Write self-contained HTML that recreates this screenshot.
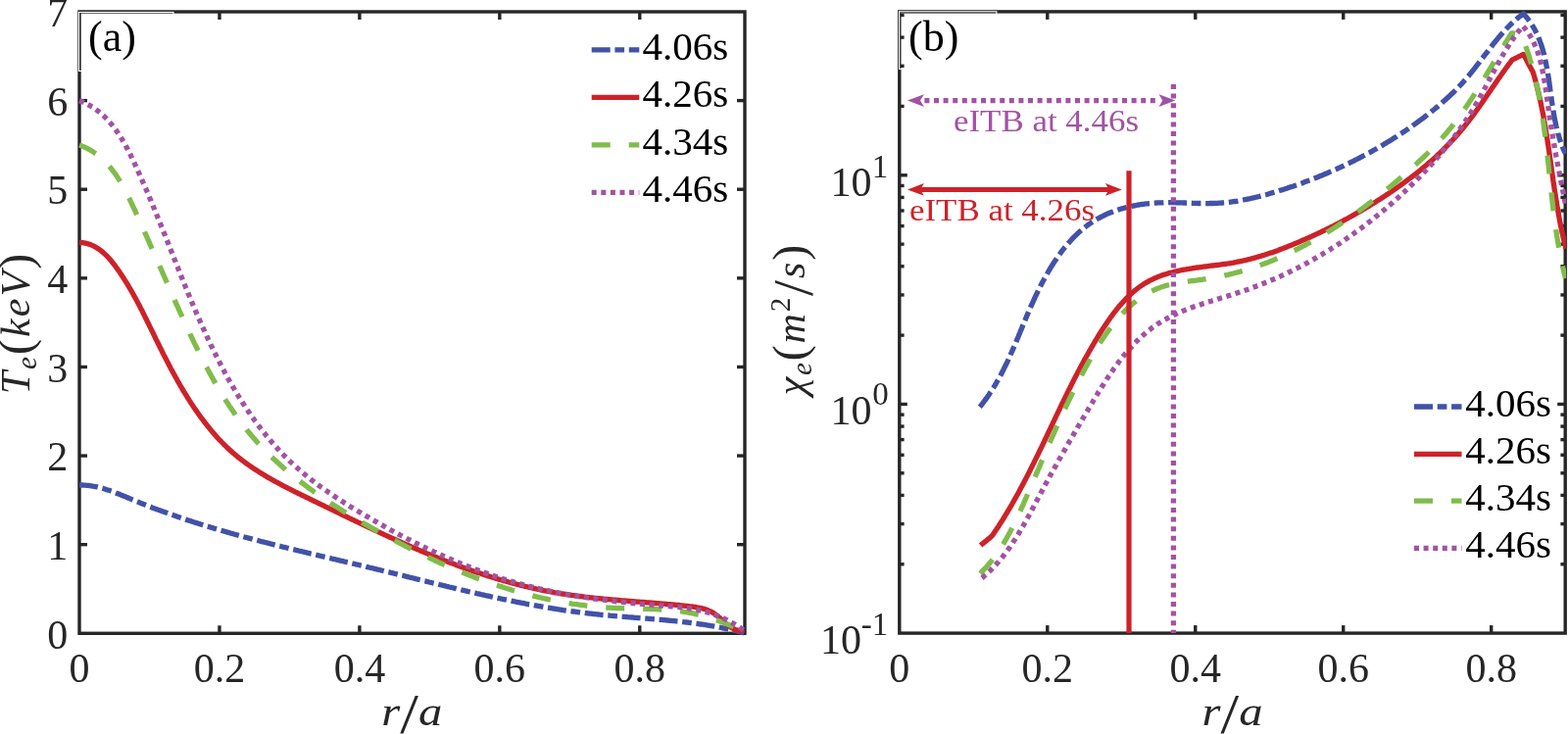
<!DOCTYPE html>
<html><head><meta charset="utf-8"><title>Figure</title>
<style>
html,body{margin:0;padding:0;background:#fff;width:1600px;height:749px;overflow:hidden}
svg{display:block}
text{font-family:'Liberation Serif', 'Times New Roman', serif;fill:#262626}
.tk{font-size:42px}
.sup{font-size:33px}
.lg{font-size:41px;fill:#000}
.ann{font-size:31px}
.pl{font-size:44px;fill:#000}
.al{font-size:42px}
</style></head><body>
<svg width="1600" height="749" viewBox="0 0 1600 749">
<rect width="1600" height="749" fill="#fff"/>
<line x1="223.95" y1="646.30" x2="223.95" y2="638.30" stroke="#262626" stroke-width="3.4"/>
<line x1="223.95" y1="12.00" x2="223.95" y2="20.00" stroke="#262626" stroke-width="3.4"/>
<line x1="366.89" y1="646.30" x2="366.89" y2="638.30" stroke="#262626" stroke-width="3.4"/>
<line x1="366.89" y1="12.00" x2="366.89" y2="20.00" stroke="#262626" stroke-width="3.4"/>
<line x1="509.84" y1="646.30" x2="509.84" y2="638.30" stroke="#262626" stroke-width="3.4"/>
<line x1="509.84" y1="12.00" x2="509.84" y2="20.00" stroke="#262626" stroke-width="3.4"/>
<line x1="652.79" y1="646.30" x2="652.79" y2="638.30" stroke="#262626" stroke-width="3.4"/>
<line x1="652.79" y1="12.00" x2="652.79" y2="20.00" stroke="#262626" stroke-width="3.4"/>
<line x1="81.00" y1="555.69" x2="89.00" y2="555.69" stroke="#262626" stroke-width="3.4"/>
<line x1="760.00" y1="555.69" x2="752.00" y2="555.69" stroke="#262626" stroke-width="3.4"/>
<line x1="81.00" y1="465.07" x2="89.00" y2="465.07" stroke="#262626" stroke-width="3.4"/>
<line x1="760.00" y1="465.07" x2="752.00" y2="465.07" stroke="#262626" stroke-width="3.4"/>
<line x1="81.00" y1="374.46" x2="89.00" y2="374.46" stroke="#262626" stroke-width="3.4"/>
<line x1="760.00" y1="374.46" x2="752.00" y2="374.46" stroke="#262626" stroke-width="3.4"/>
<line x1="81.00" y1="283.84" x2="89.00" y2="283.84" stroke="#262626" stroke-width="3.4"/>
<line x1="760.00" y1="283.84" x2="752.00" y2="283.84" stroke="#262626" stroke-width="3.4"/>
<line x1="81.00" y1="193.23" x2="89.00" y2="193.23" stroke="#262626" stroke-width="3.4"/>
<line x1="760.00" y1="193.23" x2="752.00" y2="193.23" stroke="#262626" stroke-width="3.4"/>
<line x1="81.00" y1="102.61" x2="89.00" y2="102.61" stroke="#262626" stroke-width="3.4"/>
<line x1="760.00" y1="102.61" x2="752.00" y2="102.61" stroke="#262626" stroke-width="3.4"/>
<rect x="81.00" y="12.00" width="679.00" height="634.30" fill="none" stroke="#262626" stroke-width="3.4"/>
<text x="81.00" y="695.5" text-anchor="middle" class="tk">0</text>
<text x="223.95" y="695.5" text-anchor="middle" class="tk">0.2</text>
<text x="366.89" y="695.5" text-anchor="middle" class="tk">0.4</text>
<text x="509.84" y="695.5" text-anchor="middle" class="tk">0.6</text>
<text x="652.79" y="695.5" text-anchor="middle" class="tk">0.8</text>
<text x="69.2" y="661.50" text-anchor="end" class="tk">0</text>
<text x="69.2" y="570.89" text-anchor="end" class="tk">1</text>
<text x="69.2" y="480.27" text-anchor="end" class="tk">2</text>
<text x="69.2" y="389.66" text-anchor="end" class="tk">3</text>
<text x="69.2" y="299.04" text-anchor="end" class="tk">4</text>
<text x="69.2" y="208.43" text-anchor="end" class="tk">5</text>
<text x="69.2" y="117.81" text-anchor="end" class="tk">6</text>
<text x="69.2" y="27.20" text-anchor="end" class="tk">7</text>
<line x1="1068.78" y1="646.10" x2="1068.78" y2="638.10" stroke="#262626" stroke-width="3.4"/>
<line x1="1068.78" y1="11.90" x2="1068.78" y2="19.90" stroke="#262626" stroke-width="3.4"/>
<line x1="1219.76" y1="646.10" x2="1219.76" y2="638.10" stroke="#262626" stroke-width="3.4"/>
<line x1="1219.76" y1="11.90" x2="1219.76" y2="19.90" stroke="#262626" stroke-width="3.4"/>
<line x1="1370.73" y1="646.10" x2="1370.73" y2="638.10" stroke="#262626" stroke-width="3.4"/>
<line x1="1370.73" y1="11.90" x2="1370.73" y2="19.90" stroke="#262626" stroke-width="3.4"/>
<line x1="1521.71" y1="646.10" x2="1521.71" y2="638.10" stroke="#262626" stroke-width="3.4"/>
<line x1="1521.71" y1="11.90" x2="1521.71" y2="19.90" stroke="#262626" stroke-width="3.4"/>
<line x1="917.80" y1="412.45" x2="925.80" y2="412.45" stroke="#262626" stroke-width="3.4"/>
<line x1="1597.20" y1="412.45" x2="1589.20" y2="412.45" stroke="#262626" stroke-width="3.4"/>
<line x1="917.80" y1="178.80" x2="925.80" y2="178.80" stroke="#262626" stroke-width="3.4"/>
<line x1="1597.20" y1="178.80" x2="1589.20" y2="178.80" stroke="#262626" stroke-width="3.4"/>
<line x1="917.80" y1="575.76" x2="922.60" y2="575.76" stroke="#262626" stroke-width="3.4"/>
<line x1="1597.20" y1="575.76" x2="1592.40" y2="575.76" stroke="#262626" stroke-width="3.4"/>
<line x1="917.80" y1="534.62" x2="922.60" y2="534.62" stroke="#262626" stroke-width="3.4"/>
<line x1="1597.20" y1="534.62" x2="1592.40" y2="534.62" stroke="#262626" stroke-width="3.4"/>
<line x1="917.80" y1="505.43" x2="922.60" y2="505.43" stroke="#262626" stroke-width="3.4"/>
<line x1="1597.20" y1="505.43" x2="1592.40" y2="505.43" stroke="#262626" stroke-width="3.4"/>
<line x1="917.80" y1="482.79" x2="922.60" y2="482.79" stroke="#262626" stroke-width="3.4"/>
<line x1="1597.20" y1="482.79" x2="1592.40" y2="482.79" stroke="#262626" stroke-width="3.4"/>
<line x1="917.80" y1="464.28" x2="922.60" y2="464.28" stroke="#262626" stroke-width="3.4"/>
<line x1="1597.20" y1="464.28" x2="1592.40" y2="464.28" stroke="#262626" stroke-width="3.4"/>
<line x1="917.80" y1="448.64" x2="922.60" y2="448.64" stroke="#262626" stroke-width="3.4"/>
<line x1="1597.20" y1="448.64" x2="1592.40" y2="448.64" stroke="#262626" stroke-width="3.4"/>
<line x1="917.80" y1="435.09" x2="922.60" y2="435.09" stroke="#262626" stroke-width="3.4"/>
<line x1="1597.20" y1="435.09" x2="1592.40" y2="435.09" stroke="#262626" stroke-width="3.4"/>
<line x1="917.80" y1="423.14" x2="922.60" y2="423.14" stroke="#262626" stroke-width="3.4"/>
<line x1="1597.20" y1="423.14" x2="1592.40" y2="423.14" stroke="#262626" stroke-width="3.4"/>
<line x1="917.80" y1="342.11" x2="922.60" y2="342.11" stroke="#262626" stroke-width="3.4"/>
<line x1="1597.20" y1="342.11" x2="1592.40" y2="342.11" stroke="#262626" stroke-width="3.4"/>
<line x1="917.80" y1="300.97" x2="922.60" y2="300.97" stroke="#262626" stroke-width="3.4"/>
<line x1="1597.20" y1="300.97" x2="1592.40" y2="300.97" stroke="#262626" stroke-width="3.4"/>
<line x1="917.80" y1="271.78" x2="922.60" y2="271.78" stroke="#262626" stroke-width="3.4"/>
<line x1="1597.20" y1="271.78" x2="1592.40" y2="271.78" stroke="#262626" stroke-width="3.4"/>
<line x1="917.80" y1="249.14" x2="922.60" y2="249.14" stroke="#262626" stroke-width="3.4"/>
<line x1="1597.20" y1="249.14" x2="1592.40" y2="249.14" stroke="#262626" stroke-width="3.4"/>
<line x1="917.80" y1="230.63" x2="922.60" y2="230.63" stroke="#262626" stroke-width="3.4"/>
<line x1="1597.20" y1="230.63" x2="1592.40" y2="230.63" stroke="#262626" stroke-width="3.4"/>
<line x1="917.80" y1="214.99" x2="922.60" y2="214.99" stroke="#262626" stroke-width="3.4"/>
<line x1="1597.20" y1="214.99" x2="1592.40" y2="214.99" stroke="#262626" stroke-width="3.4"/>
<line x1="917.80" y1="201.44" x2="922.60" y2="201.44" stroke="#262626" stroke-width="3.4"/>
<line x1="1597.20" y1="201.44" x2="1592.40" y2="201.44" stroke="#262626" stroke-width="3.4"/>
<line x1="917.80" y1="189.49" x2="922.60" y2="189.49" stroke="#262626" stroke-width="3.4"/>
<line x1="1597.20" y1="189.49" x2="1592.40" y2="189.49" stroke="#262626" stroke-width="3.4"/>
<line x1="917.80" y1="108.46" x2="922.60" y2="108.46" stroke="#262626" stroke-width="3.4"/>
<line x1="1597.20" y1="108.46" x2="1592.40" y2="108.46" stroke="#262626" stroke-width="3.4"/>
<line x1="917.80" y1="67.32" x2="922.60" y2="67.32" stroke="#262626" stroke-width="3.4"/>
<line x1="1597.20" y1="67.32" x2="1592.40" y2="67.32" stroke="#262626" stroke-width="3.4"/>
<line x1="917.80" y1="38.13" x2="922.60" y2="38.13" stroke="#262626" stroke-width="3.4"/>
<line x1="1597.20" y1="38.13" x2="1592.40" y2="38.13" stroke="#262626" stroke-width="3.4"/>
<line x1="917.80" y1="15.49" x2="922.60" y2="15.49" stroke="#262626" stroke-width="3.4"/>
<line x1="1597.20" y1="15.49" x2="1592.40" y2="15.49" stroke="#262626" stroke-width="3.4"/>
<rect x="917.80" y="11.90" width="679.40" height="634.20" fill="none" stroke="#262626" stroke-width="3.4"/>
<text x="917.80" y="695.5" text-anchor="middle" class="tk">0</text>
<text x="1068.78" y="695.5" text-anchor="middle" class="tk">0.2</text>
<text x="1219.76" y="695.5" text-anchor="middle" class="tk">0.4</text>
<text x="1370.73" y="695.5" text-anchor="middle" class="tk">0.6</text>
<text x="1521.71" y="695.5" text-anchor="middle" class="tk">0.8</text>
<text x="889.5" y="200.10" text-anchor="end" class="tk">10</text>
<text x="889.8" y="180.80" class="sup">1</text>
<text x="889.5" y="433.05" text-anchor="end" class="tk">10</text>
<text x="890.2" y="413.35" class="sup">0</text>
<text x="879" y="667.20" text-anchor="end" class="tk">10</text>
<text x="878.8" y="647.80" class="sup">-1</text>
<path d="M81.0,495.0 L82.5,495.0 L84.1,495.0 L85.6,495.1 L87.1,495.2 L88.6,495.3 L90.1,495.4 L91.6,495.6 L93.1,495.8 L94.6,496.1 L96.1,496.3 L97.5,496.6 L99.0,496.9 L100.4,497.3 L101.9,497.6 L103.3,498.0 L104.8,498.4 L106.2,498.8 L107.6,499.2 L109.0,499.7 L110.4,500.1 L111.9,500.6 L113.3,501.1 L114.7,501.6 L116.1,502.1 L117.5,502.6 L118.9,503.2 L120.3,503.7 L121.7,504.3 L123.1,504.9 L124.5,505.4 L125.8,506.0 L127.2,506.6 L128.6,507.1 L130.0,507.7 L131.4,508.3 L132.8,508.9 L134.2,509.5 L135.6,510.1 L137.0,510.6 L138.3,511.2 L139.7,511.8 L141.1,512.3 L142.5,512.9 L143.9,513.5 L145.3,514.0 L146.7,514.6 L148.1,515.1 L149.5,515.7 L150.9,516.2 L152.3,516.8 L153.7,517.3 L155.1,517.9 L156.5,518.4 L157.9,518.9 L159.3,519.4 L160.8,520.0 L162.2,520.5 L163.6,521.0 L165.0,521.5 L166.4,522.1 L167.8,522.6 L169.2,523.1 L170.6,523.6 L172.0,524.1 L173.5,524.6 L174.9,525.1 L176.3,525.6 L177.7,526.1 L179.1,526.6 L180.6,527.1 L182.0,527.5 L183.4,528.0 L184.8,528.5 L186.2,529.0 L187.7,529.5 L189.1,529.9 L190.5,530.4 L191.9,530.9 L193.4,531.3 L194.8,531.8 L196.2,532.3 L197.7,532.7 L199.1,533.2 L200.5,533.6 L201.9,534.1 L203.4,534.5 L204.8,535.0 L206.2,535.4 L207.7,535.9 L209.1,536.3 L210.5,536.8 L212.0,537.2 L213.4,537.6 L214.8,538.1 L216.3,538.5 L217.7,538.9 L219.2,539.4 L220.6,539.8 L222.0,540.2 L223.5,540.6 L224.9,541.1 L226.4,541.5 L227.8,541.9 L229.2,542.3 L230.7,542.7 L232.1,543.1 L233.6,543.5 L235.0,544.0 L236.5,544.4 L237.9,544.8 L239.4,545.2 L240.8,545.6 L242.2,546.0 L243.7,546.4 L245.1,546.8 L246.6,547.2 L248.0,547.6 L249.5,548.0 L250.9,548.3 L252.4,548.7 L253.8,549.1 L255.3,549.5 L256.7,549.9 L258.2,550.3 L259.6,550.7 L261.1,551.0 L262.5,551.4 L264.0,551.8 L265.5,552.2 L266.9,552.6 L268.4,552.9 L269.8,553.3 L271.3,553.7 L272.7,554.0 L274.2,554.4 L275.6,554.8 L277.1,555.2 L278.6,555.5 L280.0,555.9 L281.5,556.3 L282.9,556.6 L284.4,557.0 L285.8,557.3 L287.3,557.7 L288.8,558.1 L290.2,558.4 L291.7,558.8 L293.1,559.2 L294.6,559.5 L296.1,559.9 L297.5,560.2 L299.0,560.6 L300.4,560.9 L301.9,561.3 L303.4,561.6 L304.8,562.0 L306.3,562.3 L307.7,562.7 L309.2,563.0 L310.7,563.4 L312.1,563.7 L313.6,564.1 L315.1,564.4 L316.5,564.8 L318.0,565.1 L319.4,565.5 L320.9,565.8 L322.4,566.2 L323.8,566.5 L325.3,566.9 L326.8,567.2 L328.2,567.6 L329.7,567.9 L331.2,568.3 L332.6,568.6 L334.1,569.0 L335.6,569.3 L337.0,569.6 L338.5,570.0 L339.9,570.3 L341.4,570.7 L342.9,571.0 L344.3,571.4 L345.8,571.7 L347.3,572.1 L348.7,572.4 L350.2,572.7 L351.7,573.1 L353.1,573.4 L354.6,573.8 L356.1,574.1 L357.5,574.5 L359.0,574.8 L360.5,575.2 L361.9,575.5 L363.4,575.9 L364.8,576.2 L366.3,576.5 L367.8,576.9 L369.2,577.2 L370.7,577.6 L372.2,577.9 L373.6,578.3 L375.1,578.6 L376.6,579.0 L378.0,579.3 L379.5,579.7 L381.0,580.0 L382.4,580.4 L383.9,580.7 L385.3,581.1 L386.8,581.4 L388.3,581.8 L389.7,582.2 L391.2,582.5 L392.7,582.9 L394.1,583.2 L395.6,583.6 L397.0,583.9 L398.5,584.3 L400.0,584.6 L401.4,585.0 L402.9,585.4 L404.4,585.7 L405.8,586.1 L407.3,586.4 L408.7,586.8 L410.2,587.2 L411.7,587.5 L413.1,587.9 L414.6,588.2 L416.0,588.6 L417.5,589.0 L419.0,589.3 L420.4,589.7 L421.9,590.0 L423.4,590.4 L424.8,590.8 L426.3,591.1 L427.7,591.5 L429.2,591.8 L430.7,592.2 L432.1,592.6 L433.6,592.9 L435.0,593.3 L436.5,593.6 L438.0,594.0 L439.4,594.3 L440.9,594.7 L442.4,595.1 L443.8,595.4 L445.3,595.8 L446.7,596.1 L448.2,596.5 L449.7,596.8 L451.1,597.2 L452.6,597.5 L454.0,597.9 L455.5,598.3 L457.0,598.6 L458.4,599.0 L459.9,599.3 L461.4,599.7 L462.8,600.0 L464.3,600.4 L465.7,600.7 L467.2,601.1 L468.7,601.4 L470.1,601.7 L471.6,602.1 L473.1,602.4 L474.5,602.8 L476.0,603.1 L477.5,603.5 L478.9,603.8 L480.4,604.1 L481.9,604.5 L483.3,604.8 L484.8,605.1 L486.2,605.5 L487.7,605.8 L489.2,606.1 L490.6,606.5 L492.1,606.8 L493.6,607.1 L495.0,607.5 L496.5,607.8 L498.0,608.1 L499.4,608.4 L500.9,608.8 L502.4,609.1 L503.8,609.4 L505.3,609.7 L506.8,610.0 L508.2,610.3 L509.7,610.7 L511.2,611.0 L512.7,611.3 L514.1,611.6 L515.6,611.9 L517.1,612.2 L518.5,612.5 L520.0,612.8 L521.5,613.1 L522.9,613.4 L524.4,613.7 L525.9,614.0 L527.4,614.3 L528.8,614.6 L530.3,614.9 L531.8,615.2 L533.3,615.4 L534.7,615.7 L536.2,616.0 L537.7,616.3 L539.1,616.6 L540.6,616.8 L542.1,617.1 L543.6,617.4 L545.1,617.7 L546.5,617.9 L548.0,618.2 L549.5,618.5 L551.0,618.7 L552.4,619.0 L553.9,619.2 L555.4,619.5 L556.9,619.7 L558.4,620.0 L559.8,620.2 L561.3,620.5 L562.8,620.7 L564.3,621.0 L565.8,621.2 L567.2,621.4 L568.7,621.7 L570.2,621.9 L571.7,622.1 L573.2,622.3 L574.7,622.6 L576.1,622.8 L577.6,623.0 L579.1,623.2 L580.6,623.4 L582.1,623.6 L583.6,623.8 L585.1,624.0 L586.6,624.2 L588.0,624.4 L589.5,624.6 L591.0,624.8 L592.5,625.0 L594.0,625.2 L595.5,625.4 L597.0,625.6 L598.5,625.7 L600.0,625.9 L601.5,626.1 L603.0,626.2 L604.5,626.4 L606.0,626.6 L607.5,626.7 L608.9,626.9 L610.4,627.0 L611.9,627.2 L613.4,627.3 L614.9,627.5 L616.4,627.6 L617.9,627.8 L619.4,627.9 L620.9,628.0 L622.4,628.2 L623.9,628.3 L625.4,628.4 L626.9,628.6 L628.4,628.7 L629.9,628.8 L631.4,628.9 L632.9,629.1 L634.4,629.2 L636.0,629.3 L637.5,629.4 L639.0,629.5 L640.5,629.7 L642.0,629.8 L643.5,629.9 L645.0,630.0 L646.5,630.1 L648.0,630.3 L649.5,630.4 L651.0,630.5 L652.5,630.6 L654.0,630.7 L655.5,630.8 L657.0,631.0 L658.5,631.1 L660.0,631.2 L661.5,631.3 L663.0,631.4 L664.5,631.6 L666.0,631.7 L667.5,631.8 L669.0,631.9 L670.5,632.1 L672.0,632.2 L673.5,632.3 L675.0,632.4 L676.5,632.6 L678.0,632.7 L679.5,632.9 L681.0,633.0 L682.5,633.1 L684.0,633.3 L685.5,633.4 L687.0,633.6 L688.5,633.7 L690.0,633.9 L691.5,634.0 L693.0,634.2 L694.5,634.3 L696.0,634.5 L697.5,634.7 L699.0,634.8 L700.5,635.0 L701.9,635.2 L703.4,635.4 L704.9,635.6 L706.4,635.8 L707.9,635.9 L709.4,636.1 L710.9,636.3 L712.4,636.5 L713.8,636.8 L715.3,637.0 L716.8,637.2 L718.3,637.4 L719.8,637.6 L721.3,637.9 L722.7,638.1 L724.2,638.3 L725.7,638.6 L727.2,638.8 L728.7,639.1 L730.1,639.4 L731.6,639.6 L733.1,639.9 L734.6,640.2 L736.0,640.5 L737.5,640.8 L739.0,641.1 L740.4,641.4 L741.9,641.7 L743.4,642.0 L744.8,642.3 L746.3,642.6 L747.8,643.0 L749.2,643.3 L750.7,643.7 L752.1,644.0 L753.6,644.4 L755.0,644.8 L756.5,645.1 L757.9,645.5 L759.4,645.9" fill="none" stroke="#4252A8" stroke-width="5.3" stroke-linejoin="round" stroke-dasharray="19 4.7 9.7 4.7" stroke-dashoffset="0"/>
<path d="M81.0,247.4 L82.6,247.5 L84.1,247.6 L85.6,247.8 L87.1,248.1 L88.6,248.5 L90.0,248.9 L91.4,249.3 L92.8,249.8 L94.1,250.4 L95.5,251.0 L96.7,251.7 L98.0,252.4 L99.3,253.2 L100.5,254.0 L101.7,254.8 L102.9,255.7 L104.0,256.6 L105.2,257.6 L106.3,258.6 L107.4,259.6 L108.4,260.6 L109.5,261.7 L110.5,262.8 L111.6,264.0 L112.6,265.1 L113.6,266.3 L114.5,267.5 L115.5,268.7 L116.4,269.9 L117.4,271.2 L118.3,272.4 L119.2,273.7 L120.1,274.9 L121.0,276.2 L121.9,277.4 L122.7,278.7 L123.6,280.0 L124.4,281.3 L125.3,282.5 L126.1,283.8 L126.9,285.1 L127.7,286.4 L128.5,287.7 L129.3,288.9 L130.1,290.2 L130.9,291.5 L131.6,292.8 L132.4,294.1 L133.2,295.4 L133.9,296.7 L134.7,298.0 L135.4,299.3 L136.1,300.6 L136.8,301.9 L137.6,303.2 L138.3,304.5 L139.0,305.8 L139.7,307.1 L140.4,308.4 L141.1,309.7 L141.8,311.0 L142.5,312.3 L143.1,313.7 L143.8,315.0 L144.5,316.3 L145.2,317.6 L145.8,318.9 L146.5,320.2 L147.2,321.6 L147.8,322.9 L148.5,324.2 L149.1,325.6 L149.8,326.9 L150.4,328.2 L151.1,329.5 L151.8,330.9 L152.4,332.2 L153.1,333.6 L153.7,334.9 L154.4,336.2 L155.0,337.6 L155.7,338.9 L156.3,340.3 L157.0,341.6 L157.6,342.9 L158.3,344.3 L158.9,345.6 L159.6,347.0 L160.3,348.3 L160.9,349.7 L161.6,351.0 L162.3,352.4 L162.9,353.7 L163.6,355.1 L164.3,356.4 L165.0,357.8 L165.6,359.2 L166.3,360.5 L167.0,361.9 L167.7,363.2 L168.4,364.6 L169.1,365.9 L169.8,367.3 L170.5,368.6 L171.2,370.0 L171.9,371.3 L172.6,372.7 L173.3,374.0 L174.0,375.4 L174.7,376.7 L175.5,378.1 L176.2,379.4 L176.9,380.7 L177.6,382.1 L178.4,383.4 L179.1,384.8 L179.9,386.1 L180.6,387.4 L181.3,388.8 L182.1,390.1 L182.9,391.4 L183.6,392.7 L184.4,394.1 L185.2,395.4 L185.9,396.7 L186.7,398.0 L187.5,399.3 L188.3,400.6 L189.1,401.9 L189.9,403.2 L190.7,404.5 L191.5,405.8 L192.3,407.1 L193.1,408.4 L193.9,409.6 L194.7,410.9 L195.6,412.2 L196.4,413.4 L197.2,414.7 L198.1,416.0 L198.9,417.2 L199.8,418.5 L200.6,419.7 L201.5,420.9 L202.4,422.2 L203.2,423.4 L204.1,424.6 L205.0,425.8 L205.9,427.0 L206.8,428.2 L207.7,429.4 L208.6,430.6 L209.5,431.8 L210.5,433.0 L211.4,434.2 L212.3,435.3 L213.3,436.5 L214.2,437.7 L215.2,438.8 L216.1,440.0 L217.1,441.1 L218.1,442.2 L219.0,443.3 L220.0,444.5 L221.0,445.6 L222.0,446.7 L223.0,447.8 L224.0,448.8 L225.1,449.9 L226.1,451.0 L227.1,452.0 L228.2,453.1 L229.2,454.1 L230.3,455.2 L231.3,456.2 L232.4,457.2 L233.5,458.2 L234.6,459.2 L235.7,460.2 L236.8,461.2 L237.9,462.2 L239.0,463.1 L240.1,464.1 L241.2,465.0 L242.4,466.0 L243.5,466.9 L244.7,467.8 L245.9,468.7 L247.0,469.6 L248.2,470.5 L249.4,471.4 L250.6,472.3 L251.8,473.2 L253.0,474.0 L254.2,474.9 L255.4,475.7 L256.6,476.6 L257.9,477.4 L259.1,478.2 L260.3,479.0 L261.6,479.8 L262.8,480.6 L264.1,481.4 L265.4,482.2 L266.6,483.0 L267.9,483.8 L269.2,484.6 L270.5,485.3 L271.7,486.1 L273.0,486.9 L274.3,487.6 L275.6,488.3 L276.9,489.1 L278.2,489.8 L279.6,490.6 L280.9,491.3 L282.2,492.0 L283.5,492.7 L284.8,493.4 L286.2,494.1 L287.5,494.9 L288.8,495.6 L290.2,496.3 L291.5,497.0 L292.9,497.6 L294.2,498.3 L295.6,499.0 L296.9,499.7 L298.3,500.4 L299.6,501.1 L301.0,501.8 L302.3,502.4 L303.7,503.1 L305.0,503.8 L306.4,504.4 L307.8,505.1 L309.1,505.8 L310.5,506.4 L311.9,507.1 L313.2,507.8 L314.6,508.4 L316.0,509.1 L317.3,509.8 L318.7,510.4 L320.1,511.1 L321.4,511.8 L322.8,512.4 L324.2,513.1 L325.5,513.8 L326.9,514.4 L328.3,515.1 L329.6,515.7 L331.0,516.4 L332.4,517.1 L333.7,517.7 L335.1,518.4 L336.5,519.1 L337.8,519.7 L339.2,520.4 L340.6,521.0 L341.9,521.7 L343.3,522.4 L344.7,523.0 L346.0,523.7 L347.4,524.4 L348.8,525.0 L350.1,525.7 L351.5,526.3 L352.9,527.0 L354.2,527.6 L355.6,528.3 L357.0,529.0 L358.3,529.6 L359.7,530.3 L361.1,530.9 L362.4,531.6 L363.8,532.2 L365.2,532.9 L366.5,533.5 L367.9,534.2 L369.3,534.8 L370.6,535.5 L372.0,536.1 L373.4,536.8 L374.7,537.4 L376.1,538.1 L377.5,538.7 L378.9,539.4 L380.2,540.0 L381.6,540.7 L383.0,541.3 L384.3,541.9 L385.7,542.6 L387.1,543.2 L388.4,543.9 L389.8,544.5 L391.2,545.1 L392.6,545.8 L393.9,546.4 L395.3,547.0 L396.7,547.6 L398.0,548.3 L399.4,548.9 L400.8,549.5 L402.2,550.1 L403.5,550.8 L404.9,551.4 L406.3,552.0 L407.7,552.6 L409.0,553.2 L410.4,553.8 L411.8,554.5 L413.2,555.1 L414.5,555.7 L415.9,556.3 L417.3,556.9 L418.7,557.5 L420.1,558.1 L421.4,558.7 L422.8,559.3 L424.2,559.9 L425.6,560.5 L427.0,561.1 L428.3,561.6 L429.7,562.2 L431.1,562.8 L432.5,563.4 L433.9,564.0 L435.3,564.6 L436.6,565.1 L438.0,565.7 L439.4,566.3 L440.8,566.8 L442.2,567.4 L443.6,568.0 L445.0,568.5 L446.4,569.1 L447.8,569.7 L449.2,570.2 L450.5,570.8 L451.9,571.3 L453.3,571.9 L454.7,572.4 L456.1,572.9 L457.5,573.5 L458.9,574.0 L460.3,574.6 L461.7,575.1 L463.1,575.6 L464.5,576.1 L465.9,576.7 L467.3,577.2 L468.7,577.7 L470.1,578.2 L471.5,578.7 L472.9,579.2 L474.3,579.7 L475.7,580.2 L477.2,580.7 L478.6,581.2 L480.0,581.7 L481.4,582.2 L482.8,582.7 L484.2,583.2 L485.6,583.7 L487.0,584.2 L488.4,584.6 L489.9,585.1 L491.3,585.6 L492.7,586.0 L494.1,586.5 L495.5,587.0 L497.0,587.4 L498.4,587.9 L499.8,588.3 L501.2,588.8 L502.7,589.2 L504.1,589.6 L505.5,590.1 L506.9,590.5 L508.4,590.9 L509.8,591.4 L511.2,591.8 L512.7,592.2 L514.1,592.6 L515.5,593.0 L517.0,593.4 L518.4,593.8 L519.8,594.2 L521.3,594.6 L522.7,595.0 L524.2,595.4 L525.6,595.8 L527.1,596.2 L528.5,596.5 L530.0,596.9 L531.4,597.3 L532.9,597.6 L534.3,598.0 L535.8,598.3 L537.2,598.7 L538.7,599.0 L540.1,599.4 L541.6,599.7 L543.0,600.0 L544.5,600.4 L546.0,600.7 L547.4,601.0 L548.9,601.3 L550.4,601.6 L551.8,602.0 L553.3,602.3 L554.8,602.6 L556.2,602.8 L557.7,603.1 L559.2,603.4 L560.6,603.7 L562.1,604.0 L563.6,604.2 L565.1,604.5 L566.6,604.8 L568.0,605.0 L569.5,605.3 L571.0,605.5 L572.5,605.8 L574.0,606.0 L575.5,606.2 L577.0,606.5 L578.5,606.7 L580.0,606.9 L581.5,607.1 L583.0,607.3 L584.4,607.5 L585.9,607.7 L587.4,607.9 L588.9,608.1 L590.4,608.3 L591.9,608.5 L593.5,608.7 L595.0,608.9 L596.5,609.1 L598.0,609.3 L599.5,609.4 L601.0,609.6 L602.5,609.8 L604.0,609.9 L605.5,610.1 L607.0,610.3 L608.5,610.4 L610.0,610.6 L611.5,610.7 L613.0,610.9 L614.6,611.0 L616.1,611.2 L617.6,611.3 L619.1,611.4 L620.6,611.6 L622.1,611.7 L623.6,611.8 L625.1,612.0 L626.6,612.1 L628.2,612.2 L629.7,612.4 L631.2,612.5 L632.7,612.6 L634.2,612.8 L635.7,612.9 L637.2,613.0 L638.7,613.1 L640.2,613.2 L641.7,613.4 L643.3,613.5 L644.8,613.6 L646.3,613.7 L647.8,613.8 L649.3,614.0 L650.8,614.1 L652.3,614.2 L653.8,614.3 L655.3,614.4 L656.8,614.5 L658.3,614.6 L659.8,614.8 L661.3,614.9 L662.8,615.0 L664.3,615.1 L665.8,615.2 L667.3,615.4 L668.8,615.5 L670.3,615.6 L671.8,615.7 L673.3,615.8 L674.8,616.0 L676.2,616.1 L677.7,616.2 L679.2,616.3 L680.7,616.5 L682.2,616.6 L683.7,616.7 L685.1,616.9 L686.6,617.0 L688.1,617.1 L689.6,617.3 L691.0,617.4 L692.5,617.5 L694.0,617.7 L695.4,617.8 L696.9,618.0 L698.4,618.1 L699.8,618.3 L701.3,618.4 L702.8,618.6 L704.2,618.8 L705.7,618.9 L707.1,619.1 L708.5,619.3 L710.0,619.5 L711.4,619.8 L712.8,620.0 L714.2,620.3 L715.7,620.6 L717.0,621.0 L718.4,621.4 L719.8,621.8 L721.2,622.3 L722.5,622.8 L723.8,623.4 L725.2,624.0 L726.5,624.7 L727.8,625.4 L729.0,626.2 L730.3,627.1 L731.5,628.0 L732.7,629.0 L733.9,630.1 L735.1,631.1 L736.3,632.2 L737.5,633.3 L738.7,634.4 L739.9,635.5 L741.1,636.6 L742.4,637.6 L743.6,638.6 L744.9,639.5 L746.2,640.3 L747.5,641.1 L748.8,641.8 L750.2,642.4 L751.6,642.9 L753.1,643.2 L754.6,643.4 L756.1,643.5 L757.7,643.4 L759.4,643.1" fill="none" stroke="#CD2229" stroke-width="5.3" stroke-linejoin="round"/>
<path d="M81.0,148.0 L82.5,148.5 L83.9,149.1 L85.3,149.7 L86.7,150.3 L88.0,150.9 L89.4,151.6 L90.7,152.3 L92.0,153.0 L93.2,153.8 L94.5,154.6 L95.7,155.4 L96.9,156.2 L98.1,157.0 L99.3,157.9 L100.4,158.8 L101.5,159.7 L102.6,160.7 L103.7,161.6 L104.8,162.6 L105.8,163.6 L106.9,164.6 L107.9,165.6 L108.9,166.7 L109.9,167.8 L110.8,168.9 L111.8,170.0 L112.7,171.1 L113.6,172.2 L114.5,173.4 L115.4,174.6 L116.3,175.7 L117.2,176.9 L118.0,178.2 L118.9,179.4 L119.7,180.6 L120.5,181.9 L121.3,183.1 L122.1,184.4 L122.9,185.7 L123.6,187.0 L124.4,188.3 L125.1,189.6 L125.9,190.9 L126.6,192.3 L127.3,193.6 L128.1,194.9 L128.8,196.3 L129.5,197.7 L130.2,199.0 L130.8,200.4 L131.5,201.8 L132.2,203.1 L132.9,204.5 L133.5,205.9 L134.2,207.3 L134.8,208.7 L135.5,210.1 L136.1,211.5 L136.8,212.9 L137.4,214.3 L138.1,215.6 L138.7,217.0 L139.3,218.4 L140.0,219.8 L140.6,221.2 L141.2,222.6 L141.8,224.0 L142.5,225.4 L143.1,226.8 L143.7,228.1 L144.3,229.5 L145.0,230.9 L145.6,232.3 L146.2,233.7 L146.8,235.0 L147.4,236.4 L148.0,237.8 L148.7,239.2 L149.3,240.5 L149.9,241.9 L150.5,243.3 L151.1,244.6 L151.7,246.0 L152.3,247.4 L152.9,248.8 L153.5,250.1 L154.1,251.5 L154.7,252.9 L155.3,254.2 L155.9,255.6 L156.5,257.0 L157.1,258.3 L157.7,259.7 L158.3,261.1 L158.9,262.4 L159.5,263.8 L160.1,265.1 L160.7,266.5 L161.3,267.9 L161.9,269.2 L162.5,270.6 L163.1,272.0 L163.7,273.3 L164.3,274.7 L164.9,276.0 L165.5,277.4 L166.1,278.8 L166.7,280.1 L167.3,281.5 L167.9,282.8 L168.5,284.2 L169.1,285.6 L169.7,286.9 L170.3,288.3 L170.9,289.6 L171.5,291.0 L172.1,292.4 L172.7,293.7 L173.3,295.1 L173.9,296.5 L174.5,297.8 L175.1,299.2 L175.7,300.5 L176.3,301.9 L176.9,303.3 L177.5,304.6 L178.1,306.0 L178.7,307.4 L179.3,308.7 L179.9,310.1 L180.5,311.5 L181.2,312.8 L181.8,314.2 L182.4,315.6 L183.0,317.0 L183.6,318.3 L184.2,319.7 L184.9,321.1 L185.5,322.4 L186.1,323.8 L186.7,325.2 L187.3,326.6 L188.0,327.9 L188.6,329.3 L189.2,330.7 L189.9,332.1 L190.5,333.4 L191.1,334.8 L191.8,336.2 L192.4,337.6 L193.0,338.9 L193.7,340.3 L194.3,341.7 L195.0,343.0 L195.6,344.4 L196.3,345.8 L196.9,347.1 L197.6,348.5 L198.2,349.9 L198.9,351.2 L199.6,352.6 L200.2,354.0 L200.9,355.3 L201.6,356.7 L202.2,358.1 L202.9,359.4 L203.6,360.8 L204.3,362.1 L205.0,363.5 L205.7,364.9 L206.3,366.2 L207.0,367.6 L207.7,368.9 L208.4,370.3 L209.1,371.6 L209.8,372.9 L210.5,374.3 L211.3,375.6 L212.0,377.0 L212.7,378.3 L213.4,379.6 L214.1,381.0 L214.9,382.3 L215.6,383.6 L216.3,384.9 L217.1,386.3 L217.8,387.6 L218.5,388.9 L219.3,390.2 L220.1,391.5 L220.8,392.8 L221.6,394.1 L222.3,395.4 L223.1,396.7 L223.9,398.0 L224.7,399.3 L225.4,400.6 L226.2,401.9 L227.0,403.2 L227.8,404.5 L228.6,405.8 L229.4,407.0 L230.2,408.3 L231.0,409.6 L231.8,410.8 L232.7,412.1 L233.5,413.3 L234.3,414.6 L235.1,415.8 L236.0,417.1 L236.8,418.3 L237.7,419.6 L238.5,420.8 L239.4,422.0 L240.2,423.3 L241.1,424.5 L242.0,425.7 L242.9,426.9 L243.7,428.1 L244.6,429.3 L245.5,430.5 L246.4,431.7 L247.3,432.9 L248.2,434.1 L249.2,435.3 L250.1,436.4 L251.0,437.6 L251.9,438.8 L252.9,439.9 L253.8,441.1 L254.8,442.2 L255.7,443.4 L256.7,444.5 L257.6,445.6 L258.6,446.8 L259.6,447.9 L260.6,449.0 L261.6,450.1 L262.5,451.2 L263.5,452.3 L264.6,453.4 L265.6,454.5 L266.6,455.6 L267.6,456.7 L268.6,457.7 L269.7,458.8 L270.7,459.9 L271.7,460.9 L272.8,462.0 L273.9,463.0 L274.9,464.1 L276.0,465.1 L277.0,466.2 L278.1,467.2 L279.2,468.2 L280.3,469.2 L281.4,470.2 L282.5,471.3 L283.6,472.3 L284.7,473.3 L285.8,474.3 L286.9,475.2 L288.0,476.2 L289.1,477.2 L290.3,478.2 L291.4,479.2 L292.5,480.1 L293.7,481.1 L294.8,482.1 L296.0,483.0 L297.1,484.0 L298.3,484.9 L299.4,485.9 L300.6,486.8 L301.8,487.7 L303.0,488.7 L304.1,489.6 L305.3,490.5 L306.5,491.4 L307.7,492.4 L308.9,493.3 L310.1,494.2 L311.3,495.1 L312.5,496.0 L313.7,496.9 L314.9,497.8 L316.1,498.7 L317.3,499.5 L318.5,500.4 L319.8,501.3 L321.0,502.2 L322.2,503.0 L323.5,503.9 L324.7,504.8 L325.9,505.6 L327.2,506.5 L328.4,507.3 L329.7,508.2 L330.9,509.0 L332.2,509.9 L333.4,510.7 L334.7,511.6 L336.0,512.4 L337.2,513.2 L338.5,514.1 L339.8,514.9 L341.0,515.7 L342.3,516.5 L343.6,517.3 L344.9,518.1 L346.1,519.0 L347.4,519.8 L348.7,520.6 L350.0,521.4 L351.3,522.2 L352.6,523.0 L353.9,523.8 L355.2,524.5 L356.5,525.3 L357.8,526.1 L359.1,526.9 L360.4,527.7 L361.7,528.5 L363.0,529.2 L364.3,530.0 L365.6,530.8 L366.9,531.5 L368.2,532.3 L369.5,533.1 L370.8,533.8 L372.1,534.6 L373.5,535.4 L374.8,536.1 L376.1,536.9 L377.4,537.6 L378.7,538.4 L380.1,539.1 L381.4,539.9 L382.7,540.6 L384.0,541.3 L385.4,542.1 L386.7,542.8 L388.0,543.6 L389.3,544.3 L390.7,545.0 L392.0,545.7 L393.3,546.5 L394.7,547.2 L396.0,547.9 L397.3,548.6 L398.7,549.4 L400.0,550.1 L401.3,550.8 L402.7,551.5 L404.0,552.2 L405.3,552.9 L406.7,553.6 L408.0,554.3 L409.4,555.0 L410.7,555.7 L412.0,556.4 L413.4,557.1 L414.7,557.8 L416.1,558.5 L417.4,559.2 L418.8,559.8 L420.1,560.5 L421.5,561.2 L422.8,561.9 L424.2,562.6 L425.5,563.2 L426.9,563.9 L428.2,564.6 L429.6,565.2 L431.0,565.9 L432.3,566.5 L433.7,567.2 L435.0,567.8 L436.4,568.5 L437.7,569.1 L439.1,569.8 L440.5,570.4 L441.8,571.0 L443.2,571.7 L444.6,572.3 L445.9,572.9 L447.3,573.6 L448.7,574.2 L450.0,574.8 L451.4,575.4 L452.8,576.0 L454.2,576.6 L455.5,577.2 L456.9,577.8 L458.3,578.4 L459.7,579.0 L461.0,579.6 L462.4,580.2 L463.8,580.8 L465.2,581.4 L466.6,582.0 L468.0,582.5 L469.3,583.1 L470.7,583.7 L472.1,584.2 L473.5,584.8 L474.9,585.4 L476.3,585.9 L477.7,586.5 L479.1,587.0 L480.5,587.6 L481.9,588.1 L483.2,588.7 L484.6,589.2 L486.0,589.7 L487.4,590.2 L488.8,590.8 L490.2,591.3 L491.6,591.8 L493.1,592.3 L494.5,592.8 L495.9,593.3 L497.3,593.8 L498.7,594.3 L500.1,594.8 L501.5,595.3 L502.9,595.8 L504.3,596.3 L505.7,596.8 L507.1,597.2 L508.6,597.7 L510.0,598.2 L511.4,598.6 L512.8,599.1 L514.2,599.5 L515.7,600.0 L517.1,600.4 L518.5,600.9 L519.9,601.3 L521.4,601.7 L522.8,602.2 L524.2,602.6 L525.7,603.0 L527.1,603.4 L528.5,603.8 L529.9,604.2 L531.4,604.7 L532.8,605.1 L534.3,605.4 L535.7,605.8 L537.1,606.2 L538.6,606.6 L540.0,607.0 L541.5,607.3 L542.9,607.7 L544.4,608.1 L545.8,608.4 L547.3,608.8 L548.7,609.1 L550.2,609.5 L551.6,609.8 L553.1,610.2 L554.5,610.5 L556.0,610.8 L557.4,611.1 L558.9,611.4 L560.3,611.8 L561.8,612.1 L563.3,612.4 L564.7,612.7 L566.2,613.0 L567.7,613.2 L569.1,613.5 L570.6,613.8 L572.1,614.1 L573.5,614.3 L575.0,614.6 L576.5,614.9 L578.0,615.1 L579.4,615.4 L580.9,615.6 L582.4,615.8 L583.9,616.1 L585.4,616.3 L586.8,616.5 L588.3,616.7 L589.8,616.9 L591.3,617.1 L592.8,617.3 L594.3,617.5 L595.8,617.7 L597.3,617.9 L598.8,618.1 L600.3,618.3 L601.8,618.4 L603.2,618.6 L604.7,618.7 L606.2,618.9 L607.8,619.0 L609.3,619.2 L610.8,619.3 L612.3,619.4 L613.8,619.6 L615.3,619.7 L616.8,619.8 L618.3,619.9 L619.8,620.0 L621.3,620.1 L622.9,620.2 L624.4,620.3 L625.9,620.4 L627.4,620.4 L628.9,620.5 L630.5,620.6 L632.0,620.6 L633.5,620.7 L635.0,620.7 L636.6,620.8 L638.1,620.8 L639.6,620.9 L641.1,620.9 L642.7,620.9 L644.2,621.0 L645.7,621.0 L647.2,621.0 L648.8,621.1 L650.3,621.1 L651.8,621.1 L653.4,621.2 L654.9,621.2 L656.4,621.3 L657.9,621.3 L659.4,621.3 L661.0,621.4 L662.5,621.4 L664.0,621.5 L665.5,621.5 L667.0,621.6 L668.6,621.7 L670.1,621.7 L671.6,621.8 L673.1,621.9 L674.6,622.0 L676.1,622.0 L677.6,622.1 L679.1,622.2 L680.6,622.3 L682.1,622.5 L683.6,622.6 L685.1,622.7 L686.6,622.9 L688.1,623.0 L689.5,623.2 L691.0,623.3 L692.5,623.5 L694.0,623.7 L695.4,623.9 L696.9,624.1 L698.4,624.3 L699.8,624.6 L701.3,624.8 L702.7,625.1 L704.2,625.4 L705.6,625.6 L707.1,625.9 L708.5,626.2 L709.9,626.6 L711.4,626.9 L712.8,627.2 L714.2,627.6 L715.6,627.9 L717.0,628.3 L718.5,628.7 L719.9,629.1 L721.3,629.5 L722.7,629.9 L724.1,630.4 L725.5,630.8 L726.9,631.3 L728.3,631.7 L729.7,632.2 L731.1,632.7 L732.5,633.2 L733.9,633.7 L735.3,634.2 L736.7,634.8 L738.1,635.3 L739.5,635.9 L740.9,636.4 L742.3,637.0 L743.7,637.5 L745.1,638.1 L746.5,638.7 L747.9,639.2 L749.3,639.8 L750.8,640.3 L752.2,640.8 L753.6,641.3 L755.0,641.8 L756.5,642.3 L757.9,642.7 L759.4,643.1" fill="none" stroke="#80BC4C" stroke-width="5.3" stroke-linejoin="round" stroke-dasharray="19 19" stroke-dashoffset="0"/>
<path d="M81.0,102.7 L82.4,103.2 L83.9,103.8 L85.3,104.4 L86.6,105.0 L88.0,105.7 L89.3,106.4 L90.6,107.1 L91.9,107.8 L93.2,108.6 L94.4,109.3 L95.6,110.1 L96.9,111.0 L98.0,111.8 L99.2,112.7 L100.4,113.6 L101.5,114.5 L102.6,115.4 L103.7,116.4 L104.8,117.4 L105.9,118.3 L106.9,119.4 L108.0,120.4 L109.0,121.4 L110.0,122.5 L111.0,123.6 L111.9,124.7 L112.9,125.8 L113.8,126.9 L114.8,128.1 L115.7,129.3 L116.6,130.4 L117.5,131.6 L118.4,132.8 L119.2,134.0 L120.1,135.3 L120.9,136.5 L121.7,137.8 L122.6,139.0 L123.4,140.3 L124.2,141.6 L124.9,142.9 L125.7,144.2 L126.5,145.5 L127.2,146.8 L128.0,148.2 L128.7,149.5 L129.4,150.9 L130.2,152.2 L130.9,153.6 L131.6,154.9 L132.3,156.3 L133.0,157.7 L133.6,159.1 L134.3,160.4 L135.0,161.8 L135.7,163.2 L136.3,164.6 L137.0,166.0 L137.6,167.4 L138.3,168.8 L138.9,170.2 L139.5,171.6 L140.2,173.0 L140.8,174.4 L141.4,175.8 L142.0,177.2 L142.7,178.6 L143.3,179.9 L143.9,181.3 L144.5,182.7 L145.1,184.1 L145.7,185.5 L146.3,186.9 L146.9,188.3 L147.5,189.7 L148.1,191.0 L148.7,192.4 L149.3,193.8 L149.9,195.2 L150.5,196.5 L151.1,197.9 L151.6,199.3 L152.2,200.7 L152.8,202.1 L153.4,203.4 L154.0,204.8 L154.5,206.2 L155.1,207.6 L155.7,208.9 L156.2,210.3 L156.8,211.7 L157.4,213.0 L157.9,214.4 L158.5,215.8 L159.1,217.2 L159.6,218.5 L160.2,219.9 L160.7,221.3 L161.3,222.6 L161.9,224.0 L162.4,225.4 L163.0,226.8 L163.5,228.1 L164.1,229.5 L164.6,230.9 L165.2,232.3 L165.7,233.6 L166.3,235.0 L166.8,236.4 L167.4,237.8 L167.9,239.1 L168.5,240.5 L169.0,241.9 L169.6,243.3 L170.1,244.6 L170.7,246.0 L171.2,247.4 L171.8,248.8 L172.3,250.2 L172.9,251.6 L173.4,252.9 L174.0,254.3 L174.5,255.7 L175.1,257.1 L175.6,258.5 L176.2,259.9 L176.7,261.3 L177.3,262.7 L177.8,264.1 L178.4,265.5 L179.0,266.9 L179.5,268.3 L180.1,269.7 L180.6,271.0 L181.2,272.4 L181.7,273.8 L182.3,275.2 L182.8,276.7 L183.4,278.1 L184.0,279.5 L184.5,280.9 L185.1,282.3 L185.7,283.7 L186.2,285.1 L186.8,286.5 L187.4,287.9 L187.9,289.3 L188.5,290.7 L189.1,292.1 L189.6,293.5 L190.2,294.9 L190.8,296.3 L191.4,297.7 L191.9,299.1 L192.5,300.5 L193.1,301.9 L193.7,303.3 L194.3,304.7 L194.8,306.1 L195.4,307.5 L196.0,308.9 L196.6,310.3 L197.2,311.7 L197.8,313.2 L198.4,314.6 L199.0,316.0 L199.6,317.4 L200.2,318.8 L200.8,320.2 L201.4,321.6 L202.0,323.0 L202.6,324.3 L203.2,325.7 L203.8,327.1 L204.4,328.5 L205.0,329.9 L205.7,331.3 L206.3,332.7 L206.9,334.1 L207.5,335.5 L208.2,336.9 L208.8,338.3 L209.4,339.7 L210.0,341.0 L210.7,342.4 L211.3,343.8 L212.0,345.2 L212.6,346.6 L213.3,347.9 L213.9,349.3 L214.6,350.7 L215.2,352.1 L215.9,353.4 L216.5,354.8 L217.2,356.2 L217.9,357.5 L218.5,358.9 L219.2,360.3 L219.9,361.6 L220.5,363.0 L221.2,364.3 L221.9,365.7 L222.6,367.0 L223.3,368.4 L224.0,369.7 L224.7,371.1 L225.4,372.4 L226.1,373.8 L226.8,375.1 L227.5,376.5 L228.2,377.8 L228.9,379.1 L229.6,380.5 L230.3,381.8 L231.1,383.1 L231.8,384.4 L232.5,385.8 L233.3,387.1 L234.0,388.4 L234.7,389.7 L235.5,391.0 L236.2,392.3 L237.0,393.6 L237.7,394.9 L238.5,396.2 L239.3,397.5 L240.0,398.8 L240.8,400.1 L241.6,401.4 L242.4,402.7 L243.2,403.9 L243.9,405.2 L244.7,406.5 L245.5,407.8 L246.3,409.0 L247.1,410.3 L247.9,411.5 L248.8,412.8 L249.6,414.1 L250.4,415.3 L251.2,416.6 L252.1,417.8 L252.9,419.0 L253.7,420.3 L254.6,421.5 L255.4,422.7 L256.3,424.0 L257.1,425.2 L258.0,426.4 L258.9,427.6 L259.7,428.8 L260.6,430.0 L261.5,431.2 L262.4,432.4 L263.3,433.6 L264.2,434.8 L265.1,436.0 L266.0,437.1 L266.9,438.3 L267.8,439.5 L268.7,440.7 L269.6,441.8 L270.6,443.0 L271.5,444.1 L272.4,445.3 L273.4,446.4 L274.3,447.6 L275.3,448.7 L276.2,449.8 L277.2,450.9 L278.2,452.1 L279.2,453.2 L280.1,454.3 L281.1,455.4 L282.1,456.5 L283.1,457.6 L284.1,458.7 L285.1,459.8 L286.1,460.9 L287.2,461.9 L288.2,463.0 L289.2,464.1 L290.3,465.1 L291.3,466.2 L292.4,467.2 L293.4,468.3 L294.5,469.3 L295.5,470.3 L296.6,471.4 L297.7,472.4 L298.8,473.4 L299.9,474.4 L301.0,475.4 L302.1,476.4 L303.2,477.4 L304.3,478.4 L305.4,479.4 L306.5,480.4 L307.7,481.3 L308.8,482.3 L310.0,483.3 L311.1,484.2 L312.3,485.2 L313.4,486.1 L314.6,487.0 L315.8,488.0 L316.9,488.9 L318.1,489.8 L319.3,490.8 L320.5,491.7 L321.7,492.6 L322.9,493.5 L324.1,494.4 L325.3,495.3 L326.5,496.2 L327.7,497.1 L329.0,497.9 L330.2,498.8 L331.4,499.7 L332.7,500.6 L333.9,501.4 L335.1,502.3 L336.4,503.1 L337.6,504.0 L338.9,504.8 L340.1,505.7 L341.4,506.5 L342.7,507.4 L343.9,508.2 L345.2,509.0 L346.5,509.9 L347.7,510.7 L349.0,511.5 L350.3,512.3 L351.6,513.2 L352.9,514.0 L354.1,514.8 L355.4,515.6 L356.7,516.4 L358.0,517.2 L359.3,518.0 L360.6,518.8 L361.9,519.6 L363.2,520.3 L364.5,521.1 L365.8,521.9 L367.1,522.7 L368.4,523.5 L369.7,524.3 L371.0,525.0 L372.3,525.8 L373.7,526.6 L375.0,527.3 L376.3,528.1 L377.6,528.9 L378.9,529.6 L380.2,530.4 L381.5,531.1 L382.8,531.9 L384.2,532.6 L385.5,533.4 L386.8,534.1 L388.1,534.9 L389.4,535.6 L390.8,536.4 L392.1,537.1 L393.4,537.8 L394.7,538.6 L396.1,539.3 L397.4,540.0 L398.7,540.8 L400.0,541.5 L401.4,542.2 L402.7,542.9 L404.0,543.6 L405.4,544.4 L406.7,545.1 L408.0,545.8 L409.4,546.5 L410.7,547.2 L412.0,547.9 L413.4,548.6 L414.7,549.3 L416.1,550.0 L417.4,550.7 L418.8,551.3 L420.1,552.0 L421.4,552.7 L422.8,553.4 L424.1,554.1 L425.5,554.7 L426.8,555.4 L428.2,556.1 L429.5,556.7 L430.9,557.4 L432.2,558.0 L433.6,558.7 L435.0,559.4 L436.3,560.0 L437.7,560.6 L439.0,561.3 L440.4,561.9 L441.8,562.6 L443.1,563.2 L444.5,563.8 L445.8,564.5 L447.2,565.1 L448.6,565.7 L449.9,566.3 L451.3,566.9 L452.7,567.5 L454.1,568.1 L455.4,568.8 L456.8,569.4 L458.2,570.0 L459.6,570.5 L460.9,571.1 L462.3,571.7 L463.7,572.3 L465.1,572.9 L466.5,573.5 L467.8,574.0 L469.2,574.6 L470.6,575.2 L472.0,575.7 L473.4,576.3 L474.8,576.9 L476.2,577.4 L477.6,578.0 L479.0,578.5 L480.4,579.0 L481.8,579.6 L483.2,580.1 L484.6,580.7 L486.0,581.2 L487.4,581.7 L488.8,582.2 L490.2,582.7 L491.6,583.2 L493.0,583.8 L494.4,584.3 L495.8,584.8 L497.2,585.3 L498.6,585.8 L500.0,586.2 L501.4,586.7 L502.9,587.2 L504.3,587.7 L505.7,588.2 L507.1,588.6 L508.5,589.1 L510.0,589.6 L511.4,590.0 L512.8,590.5 L514.2,590.9 L515.7,591.4 L517.1,591.8 L518.5,592.2 L520.0,592.7 L521.4,593.1 L522.8,593.5 L524.3,593.9 L525.7,594.4 L527.2,594.8 L528.6,595.2 L530.0,595.6 L531.5,596.0 L532.9,596.4 L534.4,596.8 L535.8,597.1 L537.3,597.5 L538.7,597.9 L540.2,598.3 L541.6,598.6 L543.1,599.0 L544.6,599.4 L546.0,599.7 L547.5,600.1 L548.9,600.4 L550.4,600.8 L551.9,601.1 L553.3,601.4 L554.8,601.8 L556.3,602.1 L557.7,602.4 L559.2,602.7 L560.7,603.0 L562.1,603.3 L563.6,603.6 L565.1,603.9 L566.6,604.2 L568.0,604.5 L569.5,604.8 L571.0,605.1 L572.5,605.4 L574.0,605.7 L575.4,605.9 L576.9,606.2 L578.4,606.5 L579.9,606.8 L581.4,607.0 L582.9,607.3 L584.4,607.5 L585.8,607.8 L587.3,608.0 L588.8,608.3 L590.3,608.5 L591.8,608.7 L593.3,609.0 L594.8,609.2 L596.3,609.4 L597.8,609.7 L599.3,609.9 L600.8,610.1 L602.3,610.3 L603.8,610.5 L605.2,610.8 L606.7,611.0 L608.2,611.2 L609.7,611.4 L611.2,611.6 L612.7,611.8 L614.2,612.0 L615.7,612.1 L617.2,612.3 L618.7,612.5 L620.2,612.7 L621.7,612.9 L623.2,613.1 L624.7,613.2 L626.2,613.4 L627.7,613.6 L629.2,613.8 L630.7,613.9 L632.2,614.1 L633.7,614.3 L635.2,614.4 L636.7,614.6 L638.2,614.7 L639.7,614.9 L641.2,615.0 L642.8,615.2 L644.3,615.3 L645.8,615.5 L647.3,615.6 L648.8,615.8 L650.3,615.9 L651.8,616.0 L653.3,616.2 L654.8,616.3 L656.3,616.4 L657.8,616.6 L659.3,616.7 L660.8,616.8 L662.3,617.0 L663.8,617.1 L665.3,617.2 L666.7,617.3 L668.2,617.5 L669.7,617.6 L671.2,617.7 L672.7,617.8 L674.2,617.9 L675.7,618.0 L677.2,618.2 L678.7,618.3 L680.2,618.4 L681.7,618.5 L683.2,618.6 L684.7,618.8 L686.2,618.9 L687.6,619.0 L689.1,619.2 L690.6,619.3 L692.1,619.4 L693.6,619.6 L695.0,619.8 L696.5,619.9 L698.0,620.1 L699.4,620.3 L700.9,620.5 L702.4,620.7 L703.8,620.9 L705.3,621.2 L706.7,621.4 L708.2,621.6 L709.6,621.9 L711.1,622.2 L712.5,622.5 L713.9,622.8 L715.4,623.1 L716.8,623.5 L718.2,623.8 L719.6,624.2 L721.0,624.6 L722.4,625.0 L723.8,625.4 L725.2,625.9 L726.6,626.4 L728.0,626.8 L729.4,627.3 L730.8,627.9 L732.2,628.4 L733.5,628.9 L734.9,629.5 L736.3,630.1 L737.6,630.7 L739.0,631.3 L740.3,632.0 L741.7,632.6 L743.0,633.3 L744.3,634.0 L745.7,634.7 L747.0,635.5 L748.3,636.2 L749.6,637.0 L750.9,637.8 L752.2,638.6 L753.6,639.4 L754.9,640.3 L756.1,641.1 L757.4,642.0 L758.7,642.9 L760.0,643.8" fill="none" stroke="#A252A4" stroke-width="5.3" stroke-linejoin="round" stroke-dasharray="5 4.6" stroke-dashoffset="0"/>
<clipPath id="cb"><rect x="917.80" y="9.90" width="680.40" height="638.20"/></clipPath>
<g clip-path="url(#cb)">
<path d="M999.8,415.3 L1000.8,414.1 L1001.7,412.9 L1002.7,411.6 L1003.6,410.4 L1004.5,409.2 L1005.5,407.9 L1006.4,406.7 L1007.2,405.5 L1008.1,404.2 L1009.0,403.0 L1009.8,401.7 L1010.6,400.4 L1011.5,399.2 L1012.3,397.9 L1013.1,396.6 L1013.9,395.4 L1014.7,394.1 L1015.4,392.8 L1016.2,391.5 L1016.9,390.2 L1017.7,388.9 L1018.4,387.6 L1019.1,386.3 L1019.9,385.0 L1020.6,383.7 L1021.3,382.4 L1022.0,381.1 L1022.6,379.8 L1023.3,378.5 L1024.0,377.2 L1024.6,375.8 L1025.3,374.5 L1025.9,373.2 L1026.6,371.9 L1027.2,370.5 L1027.9,369.2 L1028.5,367.9 L1029.1,366.5 L1029.7,365.2 L1030.3,363.8 L1030.9,362.5 L1031.5,361.1 L1032.1,359.8 L1032.7,358.4 L1033.3,357.1 L1033.9,355.7 L1034.5,354.4 L1035.1,353.0 L1035.6,351.7 L1036.2,350.3 L1036.8,348.9 L1037.4,347.6 L1037.9,346.2 L1038.5,344.8 L1039.1,343.5 L1039.6,342.1 L1040.2,340.7 L1040.8,339.3 L1041.3,338.0 L1041.9,336.6 L1042.5,335.2 L1043.1,333.8 L1043.6,332.4 L1044.2,331.1 L1044.8,329.7 L1045.3,328.3 L1045.9,326.9 L1046.5,325.5 L1047.1,324.1 L1047.6,322.7 L1048.2,321.4 L1048.8,320.0 L1049.4,318.6 L1050.0,317.2 L1050.6,315.8 L1051.2,314.4 L1051.8,313.0 L1052.4,311.6 L1053.0,310.2 L1053.7,308.9 L1054.3,307.5 L1054.9,306.1 L1055.6,304.7 L1056.2,303.3 L1056.8,301.9 L1057.5,300.5 L1058.2,299.1 L1058.8,297.7 L1059.5,296.3 L1060.2,295.0 L1060.9,293.6 L1061.6,292.2 L1062.3,290.8 L1063.0,289.4 L1063.7,288.1 L1064.4,286.7 L1065.2,285.3 L1065.9,283.9 L1066.7,282.6 L1067.4,281.2 L1068.2,279.9 L1069.0,278.5 L1069.7,277.2 L1070.5,275.8 L1071.3,274.5 L1072.1,273.2 L1072.9,271.9 L1073.7,270.6 L1074.6,269.2 L1075.4,267.9 L1076.3,266.7 L1077.1,265.4 L1078.0,264.1 L1078.8,262.8 L1079.7,261.6 L1080.6,260.3 L1081.5,259.1 L1082.4,257.8 L1083.3,256.6 L1084.2,255.4 L1085.2,254.2 L1086.1,253.0 L1087.1,251.8 L1088.0,250.7 L1089.0,249.5 L1090.0,248.4 L1091.0,247.2 L1092.0,246.1 L1093.0,245.0 L1094.0,243.9 L1095.0,242.8 L1096.1,241.8 L1097.1,240.7 L1098.2,239.7 L1099.3,238.6 L1100.3,237.6 L1101.4,236.6 L1102.5,235.7 L1103.7,234.7 L1104.8,233.7 L1105.9,232.8 L1107.1,231.9 L1108.2,231.0 L1109.4,230.1 L1110.6,229.2 L1111.8,228.4 L1113.0,227.6 L1114.2,226.8 L1115.4,226.0 L1116.6,225.2 L1117.9,224.4 L1119.1,223.7 L1120.4,223.0 L1121.7,222.3 L1123.0,221.6 L1124.3,220.9 L1125.6,220.3 L1126.9,219.6 L1128.2,219.0 L1129.5,218.4 L1130.9,217.8 L1132.2,217.3 L1133.6,216.7 L1135.0,216.2 L1136.3,215.7 L1137.7,215.2 L1139.1,214.7 L1140.5,214.2 L1141.9,213.7 L1143.3,213.3 L1144.8,212.9 L1146.2,212.5 L1147.6,212.1 L1149.1,211.7 L1150.5,211.3 L1152.0,211.0 L1153.4,210.7 L1154.9,210.3 L1156.3,210.0 L1157.8,209.8 L1159.3,209.5 L1160.8,209.2 L1162.3,209.0 L1163.7,208.7 L1165.2,208.5 L1166.7,208.3 L1168.2,208.1 L1169.7,207.9 L1171.2,207.8 L1172.7,207.6 L1174.3,207.5 L1175.8,207.3 L1177.3,207.2 L1178.8,207.1 L1180.3,207.0 L1181.8,206.9 L1183.4,206.9 L1184.9,206.8 L1186.4,206.8 L1187.9,206.7 L1189.5,206.7 L1191.0,206.7 L1192.5,206.7 L1194.0,206.7 L1195.6,206.7 L1197.1,206.7 L1198.6,206.7 L1200.1,206.8 L1201.7,206.8 L1203.2,206.8 L1204.7,206.9 L1206.2,206.9 L1207.8,207.0 L1209.3,207.0 L1210.8,207.1 L1212.3,207.1 L1213.8,207.2 L1215.4,207.2 L1216.9,207.3 L1218.4,207.3 L1219.9,207.4 L1221.4,207.4 L1223.0,207.5 L1224.5,207.5 L1226.0,207.5 L1227.5,207.5 L1229.0,207.6 L1230.5,207.6 L1232.0,207.6 L1233.5,207.6 L1235.0,207.5 L1236.5,207.5 L1238.0,207.5 L1239.5,207.4 L1241.0,207.4 L1242.5,207.3 L1244.0,207.2 L1245.5,207.1 L1247.0,207.0 L1248.4,206.9 L1249.9,206.8 L1251.4,206.6 L1252.9,206.5 L1254.3,206.3 L1255.8,206.1 L1257.3,205.9 L1258.7,205.7 L1260.2,205.5 L1261.7,205.3 L1263.1,205.1 L1264.6,204.8 L1266.0,204.6 L1267.5,204.3 L1269.0,204.0 L1270.4,203.7 L1271.9,203.4 L1273.3,203.1 L1274.8,202.8 L1276.2,202.5 L1277.6,202.2 L1279.1,201.9 L1280.5,201.5 L1282.0,201.2 L1283.4,200.8 L1284.9,200.5 L1286.3,200.1 L1287.7,199.7 L1289.2,199.3 L1290.6,198.9 L1292.0,198.6 L1293.5,198.2 L1294.9,197.8 L1296.3,197.3 L1297.8,196.9 L1299.2,196.5 L1300.6,196.1 L1302.1,195.7 L1303.5,195.2 L1304.9,194.8 L1306.3,194.3 L1307.8,193.9 L1309.2,193.4 L1310.6,193.0 L1312.1,192.5 L1313.5,192.1 L1314.9,191.6 L1316.3,191.1 L1317.8,190.6 L1319.2,190.2 L1320.6,189.7 L1322.0,189.2 L1323.4,188.7 L1324.9,188.2 L1326.3,187.7 L1327.7,187.2 L1329.1,186.7 L1330.5,186.1 L1331.9,185.6 L1333.3,185.1 L1334.8,184.6 L1336.2,184.0 L1337.6,183.5 L1339.0,182.9 L1340.4,182.4 L1341.8,181.8 L1343.2,181.3 L1344.6,180.7 L1346.0,180.1 L1347.4,179.6 L1348.8,179.0 L1350.2,178.4 L1351.6,177.8 L1353.0,177.2 L1354.4,176.6 L1355.8,176.0 L1357.2,175.4 L1358.6,174.8 L1359.9,174.2 L1361.3,173.6 L1362.7,173.0 L1364.1,172.4 L1365.5,171.7 L1366.8,171.1 L1368.2,170.5 L1369.6,169.8 L1371.0,169.2 L1372.3,168.5 L1373.7,167.9 L1375.1,167.2 L1376.4,166.6 L1377.8,165.9 L1379.2,165.2 L1380.5,164.6 L1381.9,163.9 L1383.2,163.2 L1384.6,162.5 L1385.9,161.8 L1387.3,161.1 L1388.6,160.4 L1390.0,159.7 L1391.3,159.0 L1392.6,158.3 L1394.0,157.6 L1395.3,156.9 L1396.6,156.1 L1398.0,155.4 L1399.3,154.7 L1400.6,153.9 L1401.9,153.2 L1403.3,152.5 L1404.6,151.7 L1405.9,150.9 L1407.2,150.2 L1408.5,149.4 L1409.8,148.7 L1411.1,147.9 L1412.4,147.1 L1413.7,146.3 L1415.0,145.6 L1416.3,144.8 L1417.6,144.0 L1418.9,143.2 L1420.2,142.4 L1421.4,141.6 L1422.7,140.8 L1424.0,140.0 L1425.3,139.2 L1426.5,138.3 L1427.8,137.5 L1429.0,136.7 L1430.3,135.9 L1431.6,135.0 L1432.8,134.2 L1434.1,133.4 L1435.3,132.5 L1436.6,131.7 L1437.8,130.8 L1439.0,129.9 L1440.3,129.1 L1441.5,128.2 L1442.7,127.4 L1443.9,126.5 L1445.2,125.6 L1446.4,124.7 L1447.6,123.8 L1448.8,122.9 L1450.0,122.1 L1451.2,121.2 L1452.4,120.3 L1453.6,119.4 L1454.8,118.4 L1456.0,117.5 L1457.1,116.6 L1458.3,115.7 L1459.5,114.8 L1460.7,113.8 L1461.8,112.9 L1463.0,112.0 L1464.2,111.0 L1465.3,110.1 L1466.5,109.1 L1467.6,108.2 L1468.7,107.2 L1469.9,106.2 L1471.0,105.3 L1472.1,104.3 L1473.2,103.3 L1474.4,102.3 L1475.5,101.3 L1476.6,100.3 L1477.7,99.3 L1478.8,98.3 L1479.8,97.3 L1480.9,96.2 L1482.0,95.2 L1483.1,94.2 L1484.1,93.1 L1485.2,92.1 L1486.2,91.0 L1487.3,89.9 L1488.3,88.8 L1489.3,87.8 L1490.4,86.7 L1491.4,85.6 L1492.4,84.5 L1493.4,83.4 L1494.4,82.2 L1495.4,81.1 L1496.4,80.0 L1497.3,78.8 L1498.3,77.7 L1499.3,76.5 L1500.2,75.3 L1501.2,74.2 L1502.1,73.0 L1503.1,71.8 L1504.0,70.6 L1505.0,69.4 L1505.9,68.2 L1506.8,67.0 L1507.7,65.8 L1508.7,64.6 L1509.6,63.4 L1510.5,62.2 L1511.4,61.0 L1512.4,59.8 L1513.3,58.6 L1514.2,57.4 L1515.1,56.2 L1516.0,55.0 L1516.9,53.8 L1517.9,52.6 L1518.8,51.4 L1519.7,50.2 L1520.6,49.0 L1521.6,47.8 L1522.5,46.6 L1523.4,45.4 L1524.3,44.2 L1525.3,43.1 L1526.2,41.9 L1527.2,40.7 L1528.1,39.6 L1529.1,38.4 L1530.1,37.3 L1531.0,36.2 L1532.0,35.0 L1533.0,33.9 L1534.0,32.8 L1535.0,31.7 L1536.0,30.6 L1537.0,29.5 L1538.0,28.5 L1539.0,27.4 L1540.1,26.4 L1541.1,25.3 L1542.2,24.3 L1543.2,23.3 L1544.3,22.3 L1545.4,21.3 L1546.5,20.4 L1547.6,19.4 L1548.7,18.5 L1549.8,17.5 L1551.0,16.6 L1552.1,15.7 L1553.3,14.9 L1554.5,14.0 L1555.5,15.1 L1556.5,16.3 L1557.5,17.5 L1558.5,18.6 L1559.4,19.8 L1560.3,21.0 L1561.2,22.2 L1562.0,23.5 L1562.8,24.7 L1563.6,26.0 L1564.4,27.2 L1565.1,28.5 L1565.8,29.8 L1566.5,31.1 L1567.2,32.4 L1567.8,33.7 L1568.5,35.1 L1569.1,36.4 L1569.7,37.8 L1570.2,39.1 L1570.8,40.5 L1571.3,41.9 L1571.8,43.3 L1572.3,44.7 L1572.8,46.1 L1573.2,47.5 L1573.7,48.9 L1574.1,50.3 L1574.5,51.8 L1574.9,53.2 L1575.3,54.7 L1575.7,56.1 L1576.0,57.6 L1576.4,59.1 L1576.7,60.5 L1577.0,62.0 L1577.3,63.5 L1577.6,65.0 L1577.9,66.5 L1578.2,68.0 L1578.5,69.5 L1578.8,71.0 L1579.0,72.5 L1579.3,74.0 L1579.5,75.5 L1579.8,77.0 L1580.0,78.5 L1580.2,80.0 L1580.5,81.6 L1580.7,83.1 L1580.9,84.6 L1581.1,86.1 L1581.3,87.7 L1581.5,89.2 L1581.7,90.7 L1581.9,92.3 L1582.2,93.8 L1582.4,95.3 L1582.6,96.8 L1582.8,98.4 L1583.0,99.9 L1583.2,101.4 L1583.4,103.0 L1583.6,104.5 L1583.9,106.0 L1584.1,107.5 L1584.3,109.1 L1584.5,110.6 L1584.8,112.1 L1585.0,113.6 L1585.3,115.1 L1585.5,116.6 L1585.8,118.1 L1586.1,119.7 L1586.4,121.2 L1586.7,122.7 L1587.0,124.1 L1587.3,125.6 L1587.6,127.1 L1587.9,128.6 L1588.3,130.1 L1588.6,131.6 L1589.0,133.0 L1589.4,134.5 L1589.7,135.9 L1590.1,137.4 L1590.6,138.8 L1591.0,140.3 L1591.4,141.7 L1591.9,143.1 L1592.4,144.6 L1592.9,146.0 L1593.4,147.4 L1593.9,148.8 L1594.5,150.2 L1595.0,151.5 L1595.6,152.9 L1596.2,154.3 L1596.9,155.6 L1597.5,157.0" fill="none" stroke="#4252A8" stroke-width="5.3" stroke-linejoin="round" stroke-dasharray="19 4.7 9.7 4.7" stroke-dashoffset="0"/>
<path d="M1000.6,556.6 L1002.9,554.6 L1005.3,552.7 L1007.6,550.7 L1010.0,548.8 L1012.3,546.8 L1013.2,545.5 L1014.0,544.3 L1014.9,543.0 L1015.7,541.7 L1016.6,540.5 L1017.4,539.2 L1018.3,537.9 L1019.1,536.7 L1019.9,535.4 L1020.7,534.1 L1021.5,532.8 L1022.4,531.6 L1023.2,530.3 L1024.0,529.0 L1024.8,527.7 L1025.5,526.4 L1026.3,525.1 L1027.1,523.8 L1027.9,522.5 L1028.7,521.2 L1029.4,519.9 L1030.2,518.7 L1031.0,517.4 L1031.7,516.1 L1032.5,514.7 L1033.2,513.4 L1034.0,512.1 L1034.7,510.8 L1035.4,509.5 L1036.2,508.2 L1036.9,506.9 L1037.6,505.6 L1038.4,504.3 L1039.1,503.0 L1039.8,501.7 L1040.5,500.3 L1041.2,499.0 L1041.9,497.7 L1042.6,496.4 L1043.3,495.1 L1044.0,493.7 L1044.7,492.4 L1045.4,491.1 L1046.1,489.8 L1046.8,488.4 L1047.5,487.1 L1048.2,485.8 L1048.8,484.5 L1049.5,483.1 L1050.2,481.8 L1050.9,480.5 L1051.5,479.1 L1052.2,477.8 L1052.9,476.5 L1053.5,475.1 L1054.2,473.8 L1054.9,472.5 L1055.5,471.1 L1056.2,469.8 L1056.8,468.4 L1057.5,467.1 L1058.1,465.8 L1058.8,464.4 L1059.5,463.1 L1060.1,461.7 L1060.7,460.4 L1061.4,459.0 L1062.0,457.7 L1062.7,456.4 L1063.3,455.0 L1064.0,453.7 L1064.6,452.3 L1065.3,451.0 L1065.9,449.6 L1066.5,448.3 L1067.2,446.9 L1067.8,445.6 L1068.5,444.2 L1069.1,442.9 L1069.7,441.5 L1070.4,440.2 L1071.0,438.8 L1071.7,437.5 L1072.3,436.1 L1072.9,434.8 L1073.6,433.4 L1074.2,432.1 L1074.8,430.7 L1075.5,429.4 L1076.1,428.0 L1076.8,426.7 L1077.4,425.3 L1078.0,424.0 L1078.7,422.6 L1079.3,421.3 L1080.0,419.9 L1080.6,418.6 L1081.3,417.2 L1081.9,415.9 L1082.6,414.5 L1083.2,413.2 L1083.9,411.8 L1084.5,410.5 L1085.2,409.1 L1085.8,407.8 L1086.5,406.4 L1087.1,405.1 L1087.8,403.7 L1088.5,402.4 L1089.1,401.0 L1089.8,399.7 L1090.4,398.4 L1091.1,397.0 L1091.8,395.7 L1092.5,394.3 L1093.1,393.0 L1093.8,391.6 L1094.5,390.3 L1095.2,388.9 L1095.8,387.6 L1096.5,386.3 L1097.2,384.9 L1097.9,383.6 L1098.6,382.2 L1099.3,380.9 L1100.0,379.6 L1100.7,378.2 L1101.4,376.9 L1102.1,375.5 L1102.8,374.2 L1103.5,372.9 L1104.3,371.5 L1105.0,370.2 L1105.7,368.9 L1106.4,367.5 L1107.2,366.2 L1107.9,364.9 L1108.6,363.6 L1109.4,362.2 L1110.1,360.9 L1110.9,359.6 L1111.6,358.3 L1112.4,356.9 L1113.2,355.6 L1113.9,354.3 L1114.7,353.0 L1115.5,351.7 L1116.3,350.3 L1117.0,349.0 L1117.8,347.7 L1118.6,346.4 L1119.4,345.1 L1120.2,343.8 L1121.0,342.5 L1121.8,341.1 L1122.7,339.8 L1123.5,338.5 L1124.3,337.2 L1125.1,335.9 L1126.0,334.6 L1126.8,333.3 L1127.7,332.1 L1128.5,330.8 L1129.4,329.5 L1130.3,328.2 L1131.1,327.0 L1132.0,325.7 L1132.9,324.4 L1133.8,323.2 L1134.7,322.0 L1135.6,320.7 L1136.5,319.5 L1137.4,318.3 L1138.4,317.1 L1139.3,315.9 L1140.3,314.7 L1141.2,313.5 L1142.2,312.4 L1143.2,311.2 L1144.2,310.1 L1145.2,309.0 L1146.2,307.8 L1147.2,306.8 L1148.2,305.7 L1149.2,304.6 L1150.3,303.5 L1151.3,302.5 L1152.4,301.5 L1153.5,300.5 L1154.6,299.5 L1155.6,298.5 L1156.8,297.5 L1157.9,296.6 L1159.0,295.7 L1160.1,294.8 L1161.3,293.9 L1162.5,293.0 L1163.6,292.2 L1164.8,291.4 L1166.0,290.6 L1167.2,289.8 L1168.5,289.0 L1169.7,288.3 L1171.0,287.6 L1172.2,286.9 L1173.5,286.2 L1174.8,285.6 L1176.1,284.9 L1177.4,284.3 L1178.7,283.7 L1180.1,283.2 L1181.4,282.6 L1182.8,282.1 L1184.1,281.6 L1185.5,281.1 L1186.9,280.6 L1188.3,280.1 L1189.7,279.7 L1191.1,279.3 L1192.5,278.8 L1194.0,278.4 L1195.4,278.1 L1196.8,277.7 L1198.3,277.3 L1199.7,277.0 L1201.2,276.7 L1202.7,276.3 L1204.1,276.0 L1205.6,275.7 L1207.1,275.4 L1208.6,275.1 L1210.1,274.9 L1211.6,274.6 L1213.1,274.4 L1214.6,274.1 L1216.1,273.9 L1217.6,273.6 L1219.1,273.4 L1220.6,273.2 L1222.1,273.0 L1223.6,272.8 L1225.2,272.6 L1226.7,272.4 L1228.2,272.2 L1229.7,272.0 L1231.2,271.8 L1232.7,271.6 L1234.3,271.4 L1235.8,271.2 L1237.3,271.0 L1238.8,270.9 L1240.3,270.7 L1241.8,270.5 L1243.3,270.3 L1244.8,270.1 L1246.4,269.9 L1247.9,269.7 L1249.4,269.5 L1250.9,269.3 L1252.4,269.0 L1253.8,268.8 L1255.3,268.6 L1256.8,268.3 L1258.3,268.1 L1259.8,267.8 L1261.3,267.5 L1262.7,267.2 L1264.2,267.0 L1265.7,266.7 L1267.1,266.3 L1268.6,266.0 L1270.1,265.7 L1271.5,265.4 L1273.0,265.0 L1274.4,264.6 L1275.8,264.3 L1277.3,263.9 L1278.7,263.5 L1280.2,263.1 L1281.6,262.7 L1283.0,262.3 L1284.4,261.9 L1285.9,261.5 L1287.3,261.1 L1288.7,260.6 L1290.1,260.2 L1291.5,259.7 L1292.9,259.3 L1294.4,258.8 L1295.8,258.3 L1297.2,257.9 L1298.6,257.4 L1300.0,256.9 L1301.4,256.4 L1302.8,255.9 L1304.2,255.4 L1305.6,254.8 L1307.0,254.3 L1308.4,253.8 L1309.7,253.3 L1311.1,252.7 L1312.5,252.2 L1313.9,251.6 L1315.3,251.1 L1316.7,250.5 L1318.1,250.0 L1319.5,249.4 L1320.8,248.8 L1322.2,248.3 L1323.6,247.7 L1325.0,247.1 L1326.4,246.5 L1327.7,245.9 L1329.1,245.3 L1330.5,244.7 L1331.9,244.1 L1333.2,243.5 L1334.6,242.9 L1336.0,242.3 L1337.4,241.7 L1338.7,241.1 L1340.1,240.4 L1341.5,239.8 L1342.8,239.2 L1344.2,238.5 L1345.6,237.9 L1346.9,237.2 L1348.3,236.6 L1349.6,235.9 L1351.0,235.3 L1352.4,234.6 L1353.7,233.9 L1355.1,233.3 L1356.4,232.6 L1357.8,231.9 L1359.1,231.2 L1360.5,230.6 L1361.8,229.9 L1363.2,229.2 L1364.5,228.5 L1365.8,227.8 L1367.2,227.1 L1368.5,226.4 L1369.9,225.7 L1371.2,224.9 L1372.5,224.2 L1373.8,223.5 L1375.2,222.8 L1376.5,222.0 L1377.8,221.3 L1379.2,220.6 L1380.5,219.8 L1381.8,219.1 L1383.1,218.3 L1384.4,217.6 L1385.7,216.8 L1387.0,216.1 L1388.4,215.3 L1389.7,214.6 L1391.0,213.8 L1392.3,213.0 L1393.6,212.2 L1394.9,211.5 L1396.2,210.7 L1397.5,209.9 L1398.7,209.1 L1400.0,208.3 L1401.3,207.5 L1402.6,206.7 L1403.9,205.9 L1405.2,205.1 L1406.4,204.3 L1407.7,203.5 L1409.0,202.7 L1410.2,201.9 L1411.5,201.0 L1412.8,200.2 L1414.0,199.4 L1415.3,198.5 L1416.5,197.7 L1417.8,196.9 L1419.0,196.0 L1420.3,195.2 L1421.5,194.3 L1422.8,193.5 L1424.0,192.6 L1425.2,191.8 L1426.5,190.9 L1427.7,190.0 L1428.9,189.2 L1430.1,188.3 L1431.4,187.4 L1432.6,186.5 L1433.8,185.6 L1435.0,184.7 L1436.2,183.8 L1437.4,182.9 L1438.6,182.0 L1439.8,181.1 L1441.0,180.2 L1442.2,179.3 L1443.3,178.4 L1444.5,177.5 L1445.7,176.5 L1446.9,175.6 L1448.0,174.7 L1449.2,173.7 L1450.3,172.8 L1451.5,171.8 L1452.6,170.9 L1453.8,169.9 L1454.9,168.9 L1456.1,168.0 L1457.2,167.0 L1458.3,166.0 L1459.4,165.0 L1460.6,164.1 L1461.7,163.1 L1462.8,162.1 L1463.9,161.1 L1465.0,160.1 L1466.1,159.0 L1467.2,158.0 L1468.3,157.0 L1469.3,156.0 L1470.4,154.9 L1471.5,153.9 L1472.6,152.9 L1473.6,151.8 L1474.7,150.8 L1475.7,149.7 L1476.8,148.6 L1477.8,147.6 L1478.9,146.5 L1479.9,145.4 L1480.9,144.3 L1481.9,143.2 L1482.9,142.1 L1484.0,141.0 L1485.0,139.9 L1486.0,138.8 L1486.9,137.7 L1487.9,136.6 L1488.9,135.4 L1489.9,134.3 L1490.9,133.2 L1491.8,132.0 L1492.8,130.8 L1493.7,129.7 L1494.7,128.5 L1495.6,127.3 L1496.6,126.2 L1497.5,125.0 L1498.4,123.8 L1499.3,122.6 L1500.2,121.4 L1501.2,120.2 L1502.1,119.0 L1503.0,117.8 L1503.9,116.6 L1504.8,115.3 L1505.6,114.1 L1506.5,112.9 L1507.4,111.7 L1508.3,110.4 L1509.2,109.2 L1510.0,108.0 L1510.9,106.7 L1511.8,105.5 L1512.7,104.2 L1513.5,103.0 L1514.4,101.7 L1515.2,100.5 L1516.1,99.3 L1517.0,98.0 L1517.8,96.8 L1518.7,95.5 L1519.5,94.3 L1520.4,93.0 L1521.2,91.8 L1522.1,90.5 L1522.9,89.3 L1523.8,88.0 L1524.7,86.8 L1525.5,85.5 L1526.4,84.3 L1527.2,83.0 L1528.1,81.8 L1528.9,80.6 L1529.8,79.3 L1530.7,78.1 L1531.5,76.9 L1532.4,75.6 L1533.3,74.4 L1534.1,73.2 L1535.0,72.0 L1535.9,70.7 L1536.8,69.5 L1537.6,68.3 L1538.5,67.1 L1539.4,65.9 L1540.3,64.7 L1541.2,63.6 L1542.1,62.4 L1543.0,61.2 L1545.3,60.0 L1547.6,58.9 L1549.9,57.7 L1552.2,56.6 L1554.5,55.4 L1556.5,59.1 L1558.4,62.7 L1560.4,66.4 L1562.3,70.0 L1564.3,73.7 L1564.7,75.2 L1565.2,76.6 L1565.6,78.1 L1566.0,79.5 L1566.4,81.0 L1566.8,82.4 L1567.2,83.9 L1567.6,85.4 L1568.0,86.8 L1568.3,88.3 L1568.7,89.7 L1569.1,91.2 L1569.4,92.7 L1569.8,94.2 L1570.1,95.6 L1570.5,97.1 L1570.8,98.6 L1571.1,100.0 L1571.5,101.5 L1571.8,103.0 L1572.1,104.5 L1572.4,105.9 L1572.7,107.4 L1573.0,108.9 L1573.3,110.4 L1573.6,111.9 L1573.9,113.3 L1574.2,114.8 L1574.5,116.3 L1574.8,117.8 L1575.0,119.3 L1575.3,120.8 L1575.6,122.3 L1575.8,123.7 L1576.1,125.2 L1576.3,126.7 L1576.6,128.2 L1576.9,129.7 L1577.1,131.2 L1577.3,132.7 L1577.6,134.2 L1577.8,135.7 L1578.1,137.2 L1578.3,138.7 L1578.5,140.2 L1578.8,141.7 L1579.0,143.1 L1579.2,144.6 L1579.4,146.1 L1579.7,147.6 L1579.9,149.1 L1580.1,150.6 L1580.3,152.1 L1580.6,153.6 L1580.8,155.1 L1581.0,156.6 L1581.2,158.1 L1581.4,159.6 L1581.6,161.1 L1581.8,162.6 L1582.0,164.1 L1582.3,165.6 L1582.5,167.1 L1582.7,168.6 L1582.9,170.1 L1583.1,171.6 L1583.3,173.1 L1583.5,174.6 L1583.7,176.1 L1584.0,177.6 L1584.2,179.1 L1584.4,180.6 L1584.6,182.1 L1584.8,183.6 L1585.0,185.1 L1585.2,186.6 L1585.5,188.1 L1585.7,189.6 L1585.9,191.1 L1586.1,192.6 L1586.3,194.1 L1586.6,195.6 L1586.8,197.1 L1587.0,198.6 L1587.3,200.1 L1587.5,201.6 L1587.7,203.1 L1588.0,204.6 L1588.2,206.1 L1588.5,207.6 L1588.7,209.1 L1589.0,210.5 L1589.2,212.0 L1589.5,213.5 L1589.7,215.0 L1590.0,216.5 L1590.2,218.0 L1590.5,219.5 L1590.8,221.0 L1591.1,222.5 L1591.3,224.0 L1591.6,225.4 L1591.9,226.9 L1592.2,228.4 L1592.5,229.9 L1592.8,231.4 L1593.1,232.9 L1593.4,234.3 L1593.7,235.8 L1594.0,237.3 L1594.4,238.8 L1594.7,240.3 L1595.0,241.7 L1595.4,243.2 L1595.7,244.7 L1596.1,246.2 L1596.4,247.6 L1596.8,249.1 L1597.2,250.6 L1597.5,252.0 L1597.9,253.5" fill="none" stroke="#CD2229" stroke-width="5.3" stroke-linejoin="round"/>
<path d="M1000.1,585.1 L1001.2,584.1 L1002.2,583.0 L1003.3,582.0 L1004.3,580.9 L1005.3,579.8 L1006.3,578.8 L1007.3,577.7 L1008.3,576.5 L1009.3,575.4 L1010.2,574.3 L1011.2,573.1 L1012.1,572.0 L1013.0,570.8 L1013.9,569.6 L1014.8,568.4 L1015.7,567.3 L1016.5,566.0 L1017.4,564.8 L1018.3,563.6 L1019.1,562.4 L1019.9,561.1 L1020.7,559.9 L1021.5,558.6 L1022.3,557.4 L1023.1,556.1 L1023.9,554.8 L1024.7,553.5 L1025.5,552.2 L1026.2,550.9 L1027.0,549.6 L1027.7,548.3 L1028.4,547.0 L1029.2,545.6 L1029.9,544.3 L1030.6,543.0 L1031.3,541.6 L1032.0,540.3 L1032.7,538.9 L1033.4,537.6 L1034.0,536.2 L1034.7,534.9 L1035.4,533.5 L1036.1,532.1 L1036.7,530.8 L1037.4,529.4 L1038.0,528.0 L1038.7,526.6 L1039.3,525.3 L1039.9,523.9 L1040.6,522.5 L1041.2,521.1 L1041.8,519.7 L1042.4,518.3 L1043.1,516.9 L1043.7,515.6 L1044.3,514.2 L1044.9,512.8 L1045.5,511.4 L1046.1,510.0 L1046.7,508.6 L1047.3,507.2 L1047.9,505.8 L1048.5,504.5 L1049.1,503.1 L1049.7,501.7 L1050.3,500.3 L1050.9,498.9 L1051.5,497.5 L1052.1,496.2 L1052.7,494.8 L1053.3,493.4 L1053.9,492.0 L1054.5,490.7 L1055.1,489.3 L1055.7,487.9 L1056.3,486.5 L1056.9,485.1 L1057.4,483.8 L1058.0,482.4 L1058.6,481.0 L1059.2,479.6 L1059.8,478.3 L1060.4,476.9 L1061.0,475.5 L1061.5,474.2 L1062.1,472.8 L1062.7,471.4 L1063.3,470.0 L1063.9,468.7 L1064.5,467.3 L1065.1,465.9 L1065.6,464.6 L1066.2,463.2 L1066.8,461.8 L1067.4,460.5 L1068.0,459.1 L1068.6,457.7 L1069.2,456.4 L1069.8,455.0 L1070.3,453.6 L1070.9,452.3 L1071.5,450.9 L1072.1,449.5 L1072.7,448.2 L1073.3,446.8 L1073.9,445.4 L1074.5,444.1 L1075.1,442.7 L1075.7,441.4 L1076.3,440.0 L1076.9,438.6 L1077.5,437.3 L1078.1,435.9 L1078.7,434.5 L1079.3,433.2 L1079.9,431.8 L1080.5,430.5 L1081.2,429.1 L1081.8,427.7 L1082.4,426.4 L1083.0,425.0 L1083.6,423.7 L1084.3,422.3 L1084.9,421.0 L1085.5,419.6 L1086.1,418.2 L1086.8,416.9 L1087.4,415.5 L1088.0,414.2 L1088.7,412.8 L1089.3,411.5 L1090.0,410.1 L1090.6,408.7 L1091.3,407.4 L1091.9,406.0 L1092.6,404.7 L1093.2,403.3 L1093.9,402.0 L1094.6,400.6 L1095.2,399.3 L1095.9,397.9 L1096.6,396.5 L1097.3,395.2 L1097.9,393.8 L1098.6,392.5 L1099.3,391.1 L1100.0,389.8 L1100.7,388.4 L1101.4,387.1 L1102.1,385.7 L1102.8,384.4 L1103.5,383.0 L1104.2,381.6 L1105.0,380.3 L1105.7,378.9 L1106.4,377.6 L1107.1,376.2 L1107.9,374.9 L1108.6,373.5 L1109.4,372.2 L1110.1,370.8 L1110.9,369.5 L1111.6,368.1 L1112.4,366.8 L1113.2,365.4 L1113.9,364.1 L1114.7,362.7 L1115.5,361.4 L1116.3,360.0 L1117.1,358.7 L1117.9,357.4 L1118.7,356.0 L1119.5,354.7 L1120.3,353.4 L1121.1,352.1 L1121.9,350.8 L1122.8,349.4 L1123.6,348.1 L1124.5,346.8 L1125.3,345.6 L1126.2,344.3 L1127.0,343.0 L1127.9,341.7 L1128.8,340.5 L1129.7,339.2 L1130.6,338.0 L1131.5,336.7 L1132.4,335.5 L1133.3,334.3 L1134.2,333.1 L1135.2,331.9 L1136.1,330.7 L1137.0,329.5 L1138.0,328.3 L1139.0,327.1 L1139.9,326.0 L1140.9,324.8 L1141.9,323.7 L1142.9,322.6 L1143.9,321.5 L1144.9,320.4 L1145.9,319.3 L1146.9,318.3 L1148.0,317.2 L1149.0,316.2 L1150.1,315.1 L1151.1,314.1 L1152.2,313.1 L1153.3,312.2 L1154.4,311.2 L1155.5,310.2 L1156.6,309.3 L1157.7,308.4 L1158.9,307.5 L1160.0,306.6 L1161.2,305.7 L1162.3,304.9 L1163.5,304.1 L1164.7,303.2 L1165.9,302.5 L1167.1,301.7 L1168.3,300.9 L1169.5,300.2 L1170.8,299.5 L1172.0,298.8 L1173.3,298.1 L1174.5,297.4 L1175.8,296.8 L1177.1,296.2 L1178.4,295.6 L1179.7,295.0 L1181.1,294.4 L1182.4,293.9 L1183.8,293.4 L1185.1,292.9 L1186.5,292.5 L1187.9,292.0 L1189.3,291.6 L1190.7,291.2 L1192.1,290.8 L1193.6,290.5 L1195.0,290.1 L1196.4,289.8 L1197.9,289.5 L1199.4,289.2 L1200.8,288.9 L1202.3,288.7 L1203.8,288.4 L1205.3,288.2 L1206.8,287.9 L1208.3,287.7 L1209.8,287.5 L1211.3,287.3 L1212.8,287.1 L1214.4,286.9 L1215.9,286.7 L1217.4,286.5 L1218.9,286.3 L1220.5,286.1 L1222.0,285.9 L1223.5,285.7 L1225.0,285.5 L1226.6,285.3 L1228.1,285.0 L1229.6,284.8 L1231.1,284.6 L1232.6,284.4 L1234.2,284.1 L1235.7,283.9 L1237.2,283.6 L1238.7,283.3 L1240.2,283.1 L1241.7,282.8 L1243.2,282.5 L1244.7,282.2 L1246.2,281.9 L1247.6,281.6 L1249.1,281.3 L1250.6,280.9 L1252.1,280.6 L1253.6,280.3 L1255.0,279.9 L1256.5,279.5 L1258.0,279.2 L1259.4,278.8 L1260.9,278.4 L1262.3,278.0 L1263.8,277.6 L1265.3,277.2 L1266.7,276.8 L1268.1,276.4 L1269.6,276.0 L1271.0,275.5 L1272.5,275.1 L1273.9,274.7 L1275.3,274.2 L1276.8,273.7 L1278.2,273.3 L1279.6,272.8 L1281.0,272.3 L1282.4,271.8 L1283.9,271.3 L1285.3,270.8 L1286.7,270.3 L1288.1,269.8 L1289.5,269.3 L1290.9,268.8 L1292.3,268.2 L1293.7,267.7 L1295.1,267.1 L1296.5,266.6 L1297.9,266.0 L1299.2,265.5 L1300.6,264.9 L1302.0,264.3 L1303.4,263.7 L1304.8,263.1 L1306.1,262.5 L1307.5,261.9 L1308.9,261.3 L1310.2,260.7 L1311.6,260.1 L1312.9,259.5 L1314.3,258.8 L1315.7,258.2 L1317.0,257.5 L1318.4,256.9 L1319.7,256.2 L1321.0,255.6 L1322.4,254.9 L1323.7,254.2 L1325.1,253.6 L1326.4,252.9 L1327.7,252.2 L1329.0,251.5 L1330.4,250.8 L1331.7,250.1 L1333.0,249.4 L1334.3,248.7 L1335.6,248.0 L1337.0,247.2 L1338.3,246.5 L1339.6,245.8 L1340.9,245.0 L1342.2,244.3 L1343.5,243.5 L1344.8,242.8 L1346.1,242.0 L1347.4,241.3 L1348.7,240.5 L1350.0,239.7 L1351.2,239.0 L1352.5,238.2 L1353.8,237.4 L1355.1,236.6 L1356.4,235.8 L1357.6,235.0 L1358.9,234.2 L1360.2,233.4 L1361.4,232.6 L1362.7,231.8 L1364.0,231.0 L1365.2,230.1 L1366.5,229.3 L1367.7,228.5 L1369.0,227.6 L1370.2,226.8 L1371.5,226.0 L1372.7,225.1 L1374.0,224.3 L1375.2,223.4 L1376.5,222.5 L1377.7,221.7 L1378.9,220.8 L1380.2,219.9 L1381.4,219.1 L1382.6,218.2 L1383.8,217.3 L1385.1,216.4 L1386.3,215.6 L1387.5,214.7 L1388.7,213.8 L1389.9,212.9 L1391.1,212.0 L1392.4,211.1 L1393.6,210.2 L1394.8,209.3 L1396.0,208.3 L1397.2,207.4 L1398.4,206.5 L1399.6,205.6 L1400.8,204.7 L1402.0,203.7 L1403.1,202.8 L1404.3,201.9 L1405.5,201.0 L1406.7,200.0 L1407.9,199.1 L1409.1,198.1 L1410.3,197.2 L1411.4,196.3 L1412.6,195.3 L1413.8,194.4 L1414.9,193.4 L1416.1,192.4 L1417.3,191.5 L1418.4,190.5 L1419.6,189.6 L1420.8,188.6 L1421.9,187.6 L1423.1,186.7 L1424.2,185.7 L1425.4,184.7 L1426.5,183.8 L1427.7,182.8 L1428.8,181.8 L1430.0,180.8 L1431.1,179.8 L1432.3,178.9 L1433.4,177.9 L1434.5,176.9 L1435.7,175.9 L1436.8,174.9 L1437.9,173.9 L1439.0,172.9 L1440.2,171.9 L1441.3,170.9 L1442.4,169.9 L1443.5,168.9 L1444.6,167.9 L1445.7,166.9 L1446.8,165.8 L1447.9,164.8 L1449.0,163.8 L1450.1,162.8 L1451.2,161.7 L1452.3,160.7 L1453.4,159.7 L1454.4,158.6 L1455.5,157.6 L1456.6,156.5 L1457.6,155.5 L1458.7,154.4 L1459.8,153.3 L1460.8,152.3 L1461.8,151.2 L1462.9,150.1 L1463.9,149.1 L1465.0,148.0 L1466.0,146.9 L1467.0,145.8 L1468.0,144.7 L1469.0,143.6 L1470.0,142.5 L1471.0,141.4 L1472.0,140.3 L1473.0,139.1 L1474.0,138.0 L1475.0,136.9 L1476.0,135.7 L1476.9,134.6 L1477.9,133.4 L1478.8,132.3 L1479.8,131.1 L1480.7,130.0 L1481.7,128.8 L1482.6,127.6 L1483.5,126.4 L1484.4,125.3 L1485.3,124.1 L1486.2,122.9 L1487.1,121.7 L1488.0,120.5 L1488.9,119.2 L1489.8,118.0 L1490.7,116.8 L1491.6,115.6 L1492.4,114.3 L1493.3,113.1 L1494.2,111.9 L1495.0,110.6 L1495.9,109.4 L1496.7,108.1 L1497.6,106.9 L1498.4,105.6 L1499.2,104.4 L1500.1,103.1 L1500.9,101.8 L1501.7,100.6 L1502.5,99.3 L1503.4,98.0 L1504.2,96.8 L1505.0,95.5 L1505.8,94.2 L1506.6,92.9 L1507.4,91.6 L1508.2,90.4 L1509.0,89.1 L1509.8,87.8 L1510.6,86.5 L1511.4,85.2 L1512.2,83.9 L1512.9,82.6 L1513.7,81.3 L1514.5,80.0 L1515.3,78.7 L1516.1,77.4 L1516.8,76.1 L1517.6,74.8 L1518.4,73.5 L1519.2,72.2 L1519.9,70.9 L1520.7,69.7 L1521.5,68.4 L1522.3,67.1 L1523.0,65.8 L1523.8,64.5 L1524.6,63.2 L1525.3,61.9 L1526.1,60.6 L1526.9,59.3 L1527.7,58.0 L1528.4,56.7 L1529.2,55.4 L1530.0,54.1 L1530.7,52.9 L1531.5,51.6 L1532.3,50.3 L1533.0,49.0 L1533.8,47.7 L1534.6,46.5 L1535.4,45.2 L1536.1,43.9 L1536.9,42.6 L1537.7,41.4 L1538.5,40.1 L1539.3,38.8 L1540.0,37.6 L1540.8,36.3 L1541.6,35.1 L1542.4,33.8 L1544.3,34.0 L1546.3,34.3 L1548.2,34.5 L1550.2,34.8 L1552.1,35.0 L1552.7,36.4 L1553.2,37.8 L1553.8,39.2 L1554.4,40.6 L1554.9,42.1 L1555.4,43.5 L1556.0,44.9 L1556.5,46.3 L1557.0,47.7 L1557.5,49.2 L1558.0,50.6 L1558.5,52.0 L1558.9,53.4 L1559.4,54.9 L1559.9,56.3 L1560.3,57.7 L1560.8,59.2 L1561.2,60.6 L1561.7,62.1 L1562.1,63.5 L1562.5,65.0 L1562.9,66.4 L1563.3,67.8 L1563.7,69.3 L1564.1,70.7 L1564.5,72.2 L1564.9,73.7 L1565.3,75.1 L1565.6,76.6 L1566.0,78.0 L1566.4,79.5 L1566.7,80.9 L1567.1,82.4 L1567.4,83.9 L1567.7,85.3 L1568.1,86.8 L1568.4,88.3 L1568.7,89.7 L1569.0,91.2 L1569.3,92.7 L1569.6,94.2 L1569.9,95.6 L1570.2,97.1 L1570.5,98.6 L1570.8,100.1 L1571.0,101.5 L1571.3,103.0 L1571.6,104.5 L1571.8,106.0 L1572.1,107.5 L1572.4,109.0 L1572.6,110.4 L1572.9,111.9 L1573.1,113.4 L1573.3,114.9 L1573.6,116.4 L1573.8,117.9 L1574.0,119.4 L1574.3,120.9 L1574.5,122.4 L1574.7,123.9 L1574.9,125.4 L1575.1,126.9 L1575.3,128.3 L1575.5,129.8 L1575.7,131.3 L1575.9,132.8 L1576.1,134.3 L1576.3,135.8 L1576.5,137.3 L1576.7,138.8 L1576.9,140.3 L1577.1,141.8 L1577.3,143.3 L1577.4,144.9 L1577.6,146.4 L1577.8,147.9 L1578.0,149.4 L1578.1,150.9 L1578.3,152.4 L1578.5,153.9 L1578.7,155.4 L1578.8,156.9 L1579.0,158.4 L1579.2,159.9 L1579.3,161.4 L1579.5,162.9 L1579.6,164.4 L1579.8,165.9 L1580.0,167.4 L1580.1,169.0 L1580.3,170.5 L1580.4,172.0 L1580.6,173.5 L1580.7,175.0 L1580.9,176.5 L1581.1,178.0 L1581.2,179.5 L1581.4,181.0 L1581.5,182.5 L1581.7,184.0 L1581.8,185.6 L1582.0,187.1 L1582.2,188.6 L1582.3,190.1 L1582.5,191.6 L1582.6,193.1 L1582.8,194.6 L1583.0,196.1 L1583.1,197.6 L1583.3,199.1 L1583.5,200.6 L1583.6,202.2 L1583.8,203.7 L1584.0,205.2 L1584.1,206.7 L1584.3,208.2 L1584.5,209.7 L1584.7,211.2 L1584.8,212.7 L1585.0,214.2 L1585.2,215.7 L1585.4,217.2 L1585.6,218.7 L1585.8,220.2 L1586.0,221.7 L1586.2,223.2 L1586.4,224.7 L1586.6,226.2 L1586.8,227.7 L1587.0,229.2 L1587.2,230.7 L1587.4,232.2 L1587.6,233.7 L1587.8,235.2 L1588.1,236.7 L1588.3,238.2 L1588.5,239.7 L1588.7,241.2 L1589.0,242.7 L1589.2,244.2 L1589.5,245.6 L1589.7,247.1 L1590.0,248.6 L1590.2,250.1 L1590.5,251.6 L1590.8,253.1 L1591.0,254.6 L1591.3,256.0 L1591.6,257.5 L1591.9,259.0 L1592.1,260.5 L1592.4,262.0 L1592.7,263.4 L1593.0,264.9 L1593.4,266.4 L1593.7,267.9 L1594.0,269.3 L1594.3,270.8 L1594.6,272.3 L1595.0,273.8 L1595.3,275.2 L1595.7,276.7 L1596.0,278.2 L1596.4,279.6 L1596.8,281.1 L1597.1,282.5 L1597.5,284.0" fill="none" stroke="#80BC4C" stroke-width="5.3" stroke-linejoin="round" stroke-dasharray="19 19" stroke-dashoffset="0"/>
<path d="M1002.0,589.8 L1003.2,588.9 L1004.3,587.9 L1005.4,586.9 L1006.5,585.9 L1007.6,584.9 L1008.7,583.9 L1009.8,582.9 L1010.9,581.9 L1011.9,580.8 L1013.0,579.7 L1014.0,578.7 L1015.0,577.6 L1016.0,576.5 L1017.0,575.4 L1018.0,574.3 L1019.0,573.2 L1019.9,572.0 L1020.9,570.9 L1021.8,569.8 L1022.8,568.6 L1023.7,567.4 L1024.6,566.3 L1025.5,565.1 L1026.4,563.9 L1027.3,562.7 L1028.2,561.5 L1029.1,560.3 L1029.9,559.0 L1030.8,557.8 L1031.6,556.6 L1032.5,555.3 L1033.3,554.1 L1034.1,552.8 L1034.9,551.6 L1035.8,550.3 L1036.6,549.0 L1037.4,547.7 L1038.2,546.5 L1039.0,545.2 L1039.7,543.9 L1040.5,542.6 L1041.3,541.3 L1042.0,540.0 L1042.8,538.7 L1043.6,537.4 L1044.3,536.1 L1045.1,534.7 L1045.8,533.4 L1046.6,532.1 L1047.3,530.8 L1048.0,529.4 L1048.8,528.1 L1049.5,526.8 L1050.2,525.4 L1050.9,524.1 L1051.6,522.8 L1052.4,521.4 L1053.1,520.1 L1053.8,518.8 L1054.5,517.4 L1055.2,516.1 L1055.9,514.7 L1056.6,513.4 L1057.3,512.1 L1058.0,510.7 L1058.7,509.4 L1059.4,508.1 L1060.2,506.7 L1060.9,505.4 L1061.6,504.1 L1062.3,502.7 L1063.0,501.4 L1063.7,500.1 L1064.4,498.8 L1065.1,497.4 L1065.8,496.1 L1066.5,494.8 L1067.2,493.5 L1067.9,492.2 L1068.7,490.9 L1069.4,489.6 L1070.1,488.3 L1070.8,486.9 L1071.5,485.6 L1072.2,484.3 L1072.9,483.0 L1073.7,481.7 L1074.4,480.4 L1075.1,479.1 L1075.8,477.8 L1076.5,476.6 L1077.3,475.3 L1078.0,474.0 L1078.7,472.7 L1079.4,471.4 L1080.2,470.1 L1080.9,468.8 L1081.6,467.5 L1082.4,466.2 L1083.1,464.9 L1083.8,463.6 L1084.6,462.3 L1085.3,461.1 L1086.0,459.8 L1086.8,458.5 L1087.5,457.2 L1088.2,455.9 L1089.0,454.6 L1089.7,453.3 L1090.5,452.0 L1091.2,450.7 L1091.9,449.4 L1092.7,448.2 L1093.4,446.9 L1094.2,445.6 L1094.9,444.3 L1095.7,443.0 L1096.4,441.7 L1097.2,440.4 L1097.9,439.1 L1098.7,437.8 L1099.4,436.5 L1100.2,435.2 L1101.0,433.9 L1101.7,432.6 L1102.5,431.3 L1103.2,430.0 L1104.0,428.7 L1104.8,427.4 L1105.5,426.1 L1106.3,424.8 L1107.1,423.5 L1107.8,422.2 L1108.6,420.8 L1109.4,419.5 L1110.2,418.2 L1110.9,416.9 L1111.7,415.6 L1112.5,414.3 L1113.3,412.9 L1114.1,411.6 L1114.9,410.3 L1115.6,409.0 L1116.4,407.6 L1117.2,406.3 L1118.0,405.0 L1118.8,403.7 L1119.6,402.4 L1120.4,401.0 L1121.2,399.7 L1122.1,398.4 L1122.9,397.1 L1123.7,395.8 L1124.5,394.5 L1125.3,393.2 L1126.2,391.9 L1127.0,390.6 L1127.8,389.3 L1128.7,388.0 L1129.5,386.7 L1130.4,385.4 L1131.2,384.1 L1132.1,382.8 L1132.9,381.6 L1133.8,380.3 L1134.7,379.0 L1135.6,377.8 L1136.4,376.5 L1137.3,375.3 L1138.2,374.0 L1139.1,372.8 L1140.0,371.6 L1140.9,370.4 L1141.8,369.1 L1142.8,367.9 L1143.7,366.7 L1144.6,365.5 L1145.6,364.4 L1146.5,363.2 L1147.4,362.0 L1148.4,360.9 L1149.4,359.7 L1150.3,358.6 L1151.3,357.4 L1152.3,356.3 L1153.3,355.2 L1154.3,354.1 L1155.3,353.0 L1156.3,351.9 L1157.3,350.8 L1158.4,349.8 L1159.4,348.7 L1160.4,347.7 L1161.5,346.6 L1162.5,345.6 L1163.6,344.6 L1164.7,343.6 L1165.8,342.6 L1166.9,341.6 L1168.0,340.7 L1169.1,339.7 L1170.2,338.8 L1171.3,337.9 L1172.4,337.0 L1173.6,336.1 L1174.7,335.2 L1175.9,334.3 L1177.1,333.5 L1178.3,332.6 L1179.4,331.8 L1180.6,331.0 L1181.9,330.2 L1183.1,329.4 L1184.3,328.7 L1185.5,327.9 L1186.8,327.2 L1188.0,326.5 L1189.3,325.8 L1190.6,325.1 L1191.9,324.4 L1193.2,323.7 L1194.5,323.0 L1195.8,322.4 L1197.1,321.8 L1198.4,321.1 L1199.7,320.5 L1201.1,319.9 L1202.4,319.3 L1203.7,318.7 L1205.1,318.2 L1206.4,317.6 L1207.8,317.0 L1209.2,316.5 L1210.6,315.9 L1211.9,315.4 L1213.3,314.9 L1214.7,314.4 L1216.1,313.8 L1217.5,313.3 L1218.9,312.8 L1220.3,312.3 L1221.7,311.8 L1223.2,311.4 L1224.6,310.9 L1226.0,310.4 L1227.4,309.9 L1228.9,309.5 L1230.3,309.0 L1231.7,308.5 L1233.2,308.1 L1234.6,307.6 L1236.1,307.2 L1237.5,306.7 L1238.9,306.3 L1240.4,305.8 L1241.8,305.4 L1243.3,304.9 L1244.7,304.5 L1246.2,304.0 L1247.7,303.6 L1249.1,303.2 L1250.6,302.7 L1252.0,302.3 L1253.5,301.8 L1254.9,301.4 L1256.4,300.9 L1257.8,300.4 L1259.3,300.0 L1260.7,299.5 L1262.2,299.1 L1263.6,298.6 L1265.1,298.1 L1266.5,297.6 L1267.9,297.2 L1269.4,296.7 L1270.8,296.2 L1272.2,295.7 L1273.7,295.2 L1275.1,294.7 L1276.5,294.1 L1278.0,293.6 L1279.4,293.1 L1280.8,292.6 L1282.2,292.0 L1283.6,291.5 L1285.0,290.9 L1286.4,290.4 L1287.9,289.8 L1289.3,289.3 L1290.7,288.7 L1292.1,288.1 L1293.5,287.6 L1294.8,287.0 L1296.2,286.4 L1297.6,285.8 L1299.0,285.2 L1300.4,284.6 L1301.8,284.0 L1303.2,283.4 L1304.5,282.8 L1305.9,282.2 L1307.3,281.5 L1308.7,280.9 L1310.0,280.3 L1311.4,279.6 L1312.7,279.0 L1314.1,278.3 L1315.5,277.7 L1316.8,277.0 L1318.2,276.4 L1319.5,275.7 L1320.9,275.0 L1322.2,274.3 L1323.5,273.7 L1324.9,273.0 L1326.2,272.3 L1327.5,271.6 L1328.9,270.9 L1330.2,270.2 L1331.5,269.5 L1332.9,268.8 L1334.2,268.1 L1335.5,267.3 L1336.8,266.6 L1338.1,265.9 L1339.4,265.1 L1340.7,264.4 L1342.0,263.6 L1343.3,262.9 L1344.6,262.1 L1345.9,261.4 L1347.2,260.6 L1348.5,259.9 L1349.8,259.1 L1351.1,258.3 L1352.4,257.5 L1353.7,256.8 L1354.9,256.0 L1356.2,255.2 L1357.5,254.4 L1358.8,253.6 L1360.0,252.8 L1361.3,252.0 L1362.5,251.2 L1363.8,250.3 L1365.1,249.5 L1366.3,248.7 L1367.6,247.9 L1368.8,247.0 L1370.1,246.2 L1371.3,245.4 L1372.5,244.5 L1373.8,243.7 L1375.0,242.8 L1376.2,242.0 L1377.5,241.1 L1378.7,240.2 L1379.9,239.4 L1381.1,238.5 L1382.4,237.6 L1383.6,236.7 L1384.8,235.9 L1386.0,235.0 L1387.2,234.1 L1388.4,233.2 L1389.6,232.3 L1390.8,231.4 L1392.0,230.5 L1393.2,229.6 L1394.4,228.6 L1395.6,227.7 L1396.8,226.8 L1398.0,225.9 L1399.1,225.0 L1400.3,224.0 L1401.5,223.1 L1402.7,222.2 L1403.8,221.2 L1405.0,220.3 L1406.2,219.3 L1407.3,218.4 L1408.5,217.4 L1409.6,216.5 L1410.8,215.5 L1411.9,214.5 L1413.1,213.6 L1414.2,212.6 L1415.4,211.6 L1416.5,210.6 L1417.6,209.6 L1418.8,208.7 L1419.9,207.7 L1421.0,206.7 L1422.1,205.7 L1423.3,204.7 L1424.4,203.7 L1425.5,202.7 L1426.6,201.7 L1427.7,200.7 L1428.8,199.6 L1429.9,198.6 L1431.0,197.6 L1432.1,196.6 L1433.2,195.6 L1434.3,194.5 L1435.4,193.5 L1436.5,192.5 L1437.6,191.4 L1438.6,190.4 L1439.7,189.3 L1440.8,188.3 L1441.9,187.2 L1442.9,186.2 L1444.0,185.1 L1445.1,184.1 L1446.1,183.0 L1447.2,181.9 L1448.2,180.9 L1449.3,179.8 L1450.3,178.7 L1451.4,177.6 L1452.4,176.5 L1453.4,175.5 L1454.5,174.4 L1455.5,173.3 L1456.5,172.2 L1457.5,171.1 L1458.6,170.0 L1459.6,168.9 L1460.6,167.8 L1461.6,166.7 L1462.6,165.5 L1463.6,164.4 L1464.6,163.3 L1465.6,162.2 L1466.5,161.0 L1467.5,159.9 L1468.5,158.8 L1469.5,157.6 L1470.5,156.5 L1471.4,155.3 L1472.4,154.2 L1473.3,153.0 L1474.3,151.9 L1475.2,150.7 L1476.2,149.6 L1477.1,148.4 L1478.0,147.2 L1479.0,146.1 L1479.9,144.9 L1480.8,143.7 L1481.7,142.5 L1482.6,141.3 L1483.6,140.1 L1484.5,138.9 L1485.4,137.7 L1486.2,136.5 L1487.1,135.3 L1488.0,134.1 L1488.9,132.9 L1489.8,131.7 L1490.6,130.4 L1491.5,129.2 L1492.3,128.0 L1493.2,126.7 L1494.0,125.5 L1494.9,124.3 L1495.7,123.0 L1496.5,121.8 L1497.4,120.5 L1498.2,119.3 L1499.0,118.0 L1499.8,116.7 L1500.6,115.5 L1501.4,114.2 L1502.2,112.9 L1503.0,111.6 L1503.7,110.3 L1504.5,109.0 L1505.3,107.7 L1506.0,106.4 L1506.8,105.1 L1507.6,103.8 L1508.3,102.5 L1509.0,101.2 L1509.8,99.9 L1510.5,98.6 L1511.2,97.2 L1512.0,95.9 L1512.7,94.6 L1513.4,93.3 L1514.1,91.9 L1514.8,90.6 L1515.6,89.3 L1516.3,87.9 L1517.0,86.6 L1517.7,85.3 L1518.4,83.9 L1519.1,82.6 L1519.8,81.3 L1520.5,79.9 L1521.2,78.6 L1521.9,77.3 L1522.7,75.9 L1523.4,74.6 L1524.1,73.3 L1524.8,71.9 L1525.5,70.6 L1526.2,69.3 L1526.9,68.0 L1527.7,66.6 L1528.4,65.3 L1529.1,64.0 L1529.9,62.7 L1530.6,61.4 L1531.3,60.0 L1532.1,58.7 L1532.8,57.4 L1533.6,56.1 L1534.3,54.8 L1535.1,53.6 L1535.9,52.3 L1536.7,51.0 L1537.4,49.7 L1538.2,48.4 L1539.0,47.2 L1539.8,45.9 L1540.6,44.6 L1541.5,43.4 L1542.3,42.2 L1543.1,40.9 L1544.0,39.7 L1544.8,38.5 L1545.7,37.2 L1546.6,36.0 L1547.4,34.8 L1548.3,33.6 L1549.2,32.4 L1550.1,31.2 L1551.1,30.1 L1552.0,28.9 L1552.9,27.7 L1553.9,26.6 L1554.9,27.7 L1555.9,28.9 L1556.8,30.0 L1557.7,31.2 L1558.6,32.4 L1559.5,33.6 L1560.3,34.8 L1561.1,36.1 L1561.8,37.3 L1562.6,38.6 L1563.3,39.9 L1563.9,41.2 L1564.6,42.5 L1565.2,43.8 L1565.8,45.1 L1566.4,46.5 L1567.0,47.8 L1567.5,49.2 L1568.1,50.6 L1568.6,51.9 L1569.1,53.3 L1569.5,54.7 L1570.0,56.1 L1570.4,57.6 L1570.8,59.0 L1571.2,60.4 L1571.6,61.9 L1572.0,63.3 L1572.4,64.8 L1572.7,66.2 L1573.1,67.7 L1573.4,69.2 L1573.7,70.6 L1574.0,72.1 L1574.3,73.6 L1574.6,75.1 L1574.9,76.6 L1575.2,78.1 L1575.5,79.6 L1575.7,81.1 L1576.0,82.6 L1576.2,84.1 L1576.5,85.6 L1576.7,87.1 L1577.0,88.6 L1577.2,90.1 L1577.4,91.7 L1577.6,93.2 L1577.9,94.7 L1578.1,96.2 L1578.3,97.7 L1578.5,99.3 L1578.7,100.8 L1578.9,102.3 L1579.1,103.8 L1579.3,105.3 L1579.5,106.9 L1579.7,108.4 L1580.0,109.9 L1580.2,111.4 L1580.4,112.9 L1580.6,114.5 L1580.8,116.0 L1581.0,117.5 L1581.2,119.0 L1581.5,120.5 L1581.7,122.0 L1581.9,123.5 L1582.1,125.0 L1582.4,126.5 L1582.6,128.0 L1582.8,129.6 L1583.1,131.1 L1583.3,132.6 L1583.5,134.1 L1583.8,135.6 L1584.0,137.0 L1584.3,138.5 L1584.5,140.0 L1584.8,141.5 L1585.0,143.0 L1585.3,144.5 L1585.5,146.0 L1585.8,147.5 L1586.1,149.0 L1586.3,150.5 L1586.6,152.0 L1586.8,153.5 L1587.1,154.9 L1587.4,156.4 L1587.6,157.9 L1587.9,159.4 L1588.2,160.9 L1588.5,162.4 L1588.7,163.9 L1589.0,165.4 L1589.3,166.8 L1589.6,168.3 L1589.8,169.8 L1590.1,171.3 L1590.4,172.8 L1590.7,174.3 L1591.0,175.7 L1591.3,177.2 L1591.5,178.7 L1591.8,180.2 L1592.1,181.7 L1592.4,183.2 L1592.7,184.7 L1593.0,186.1 L1593.3,187.6 L1593.6,189.1 L1593.9,190.6 L1594.2,192.1 L1594.5,193.6 L1594.8,195.1 L1595.1,196.6 L1595.4,198.0 L1595.7,199.5 L1596.0,201.0 L1596.3,202.5 L1596.6,204.0 L1596.9,205.5 L1597.2,207.0 L1597.5,208.5" fill="none" stroke="#A252A4" stroke-width="5.3" stroke-linejoin="round" stroke-dasharray="5 4.6" stroke-dashoffset="0"/>
</g>
<line x1="1152.00" y1="174.30" x2="1152.00" y2="646.10" stroke="#CD2229" stroke-width="5.2"/>
<line x1="1197.40" y1="86.00" x2="1197.40" y2="646.10" stroke="#A252A4" stroke-width="5.3" stroke-dasharray="5 4.6"/>
<line x1="938.00" y1="193.40" x2="1132.80" y2="193.40" stroke="#CD2229" stroke-width="5.0"/>
<polygon points="926.00,193.40 942.90,187.00 939.10,193.40 942.90,199.80" fill="#CD2229"/>
<polygon points="1144.80,193.40 1127.90,187.00 1131.70,193.40 1127.90,199.80" fill="#CD2229"/>
<line x1="943.40" y1="102.55" x2="1182.50" y2="102.55" stroke="#A252A4" stroke-width="5.3" stroke-dasharray="5 4.6"/>
<polygon points="926.00,102.55 942.90,96.15 939.10,102.55 942.90,108.95" fill="#A252A4"/>
<polygon points="1199.40,102.55 1182.50,96.15 1186.30,102.55 1182.50,108.95" fill="#A252A4"/>
<text x="973" y="134.1" class="ann" style="fill:#A252A4" textLength="189" lengthAdjust="spacingAndGlyphs">eITB at 4.46s</text>
<text x="928" y="225" class="ann" style="fill:#CD2229" textLength="189" lengthAdjust="spacingAndGlyphs">eITB at 4.26s</text>
<line x1="603.70" y1="50.80" x2="652.30" y2="50.80" stroke="#4252A8" stroke-width="5.3" stroke-dasharray="19 4.7 9.7 4.7"/>
<text x="655.50" y="60.80" class="lg" textLength="87.8" lengthAdjust="spacingAndGlyphs">4.06s</text>
<line x1="603.70" y1="99.40" x2="652.30" y2="99.40" stroke="#CD2229" stroke-width="5.3"/>
<text x="655.50" y="109.40" class="lg" textLength="87.8" lengthAdjust="spacingAndGlyphs">4.26s</text>
<line x1="603.70" y1="147.90" x2="652.30" y2="147.90" stroke="#80BC4C" stroke-width="5.3" stroke-dasharray="19 19"/>
<text x="655.50" y="157.90" class="lg" textLength="87.8" lengthAdjust="spacingAndGlyphs">4.34s</text>
<line x1="603.70" y1="196.40" x2="652.30" y2="196.40" stroke="#A252A4" stroke-width="5.3" stroke-dasharray="5 4.6"/>
<text x="655.50" y="206.40" class="lg" textLength="87.8" lengthAdjust="spacingAndGlyphs">4.46s</text>
<line x1="1443.00" y1="415.00" x2="1491.50" y2="415.00" stroke="#4252A8" stroke-width="5.3" stroke-dasharray="19 4.7 9.7 4.7"/>
<text x="1495.20" y="425.00" class="lg" textLength="87.8" lengthAdjust="spacingAndGlyphs">4.06s</text>
<line x1="1443.00" y1="463.30" x2="1491.50" y2="463.30" stroke="#CD2229" stroke-width="5.3"/>
<text x="1495.20" y="473.30" class="lg" textLength="87.8" lengthAdjust="spacingAndGlyphs">4.26s</text>
<line x1="1443.00" y1="511.20" x2="1491.50" y2="511.20" stroke="#80BC4C" stroke-width="5.3" stroke-dasharray="19 19"/>
<text x="1495.20" y="521.20" class="lg" textLength="87.8" lengthAdjust="spacingAndGlyphs">4.34s</text>
<line x1="1443.00" y1="559.40" x2="1491.50" y2="559.40" stroke="#A252A4" stroke-width="5.3" stroke-dasharray="5 4.6"/>
<text x="1495.20" y="569.40" class="lg" textLength="87.8" lengthAdjust="spacingAndGlyphs">4.46s</text>
<rect x="80.5" y="12.5" width="96.5" height="60" fill="none" stroke="#fff" stroke-width="1.1"/>
<text x="90" y="51.5" class="pl">(a)</text>
<rect x="917.6" y="11.8" width="99.3" height="58.7" fill="none" stroke="#fff" stroke-width="1.1"/>
<text x="927" y="51.5" class="pl">(b)</text>
<text x="420.3" y="739.5" text-anchor="middle" class="al" textLength="62" lengthAdjust="spacingAndGlyphs"><tspan font-style="italic">r</tspan><tspan font-size="58" dy="8.5">/</tspan><tspan font-style="italic" dy="-8.5">a</tspan></text>
<text x="1257.5" y="739.5" text-anchor="middle" class="al" textLength="62" lengthAdjust="spacingAndGlyphs"><tspan font-style="italic">r</tspan><tspan font-size="58" dy="8.5">/</tspan><tspan font-style="italic" dy="-8.5">a</tspan></text>
<text transform="translate(30,330.6) rotate(-90)" text-anchor="middle" class="al" textLength="143.5" lengthAdjust="spacing"><tspan font-style="italic">T</tspan><tspan font-style="italic" font-size="29" dy="7">e</tspan><tspan font-size="48" dy="-5.5">(</tspan><tspan font-style="italic" dy="-1.5">keV</tspan><tspan font-size="48" dy="1.5">)</tspan></text>
<text transform="translate(820.5,326.5) rotate(-90)" text-anchor="middle" class="al" textLength="153.6" lengthAdjust="spacing"><tspan font-style="italic">χ</tspan><tspan font-style="italic" font-size="29" dy="7">e</tspan><tspan font-size="48" dy="-5.5">(</tspan><tspan font-style="italic" dy="-1.5">m</tspan><tspan font-size="29" dy="-15">2</tspan><tspan font-size="58" dy="23.5">/</tspan><tspan font-style="italic" dy="-8.5">s</tspan><tspan font-size="48" dy="1.5">)</tspan></text>
</svg>
</body></html>
